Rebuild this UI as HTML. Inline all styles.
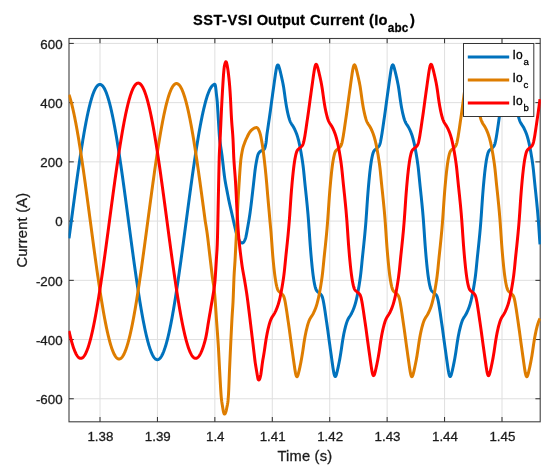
<!DOCTYPE html>
<html><head><meta charset="utf-8"><title>SST-VSI Output Current</title>
<style>html,body{margin:0;padding:0;background:#fff;width:550px;height:473px;overflow:hidden}svg text{font-family:"Liberation Sans",Arial,Helvetica,sans-serif}</style></head>
<body>
<svg width="550" height="473" viewBox="0 0 550 473" style="display:block;position:absolute;left:0;top:0">
<rect width="550" height="473" fill="#fff"/>
<g stroke="#dfdfdf" stroke-width="1">
<line x1="100.00" y1="38.5" x2="100.00" y2="421.8"/>
<line x1="157.43" y1="38.5" x2="157.43" y2="421.8"/>
<line x1="214.86" y1="38.5" x2="214.86" y2="421.8"/>
<line x1="272.29" y1="38.5" x2="272.29" y2="421.8"/>
<line x1="329.72" y1="38.5" x2="329.72" y2="421.8"/>
<line x1="387.14" y1="38.5" x2="387.14" y2="421.8"/>
<line x1="444.57" y1="38.5" x2="444.57" y2="421.8"/>
<line x1="502.00" y1="38.5" x2="502.00" y2="421.8"/>
<line x1="69.0" y1="43.42" x2="540.2" y2="43.42"/>
<line x1="69.0" y1="102.65" x2="540.2" y2="102.65"/>
<line x1="69.0" y1="161.87" x2="540.2" y2="161.87"/>
<line x1="69.0" y1="221.10" x2="540.2" y2="221.10"/>
<line x1="69.0" y1="280.33" x2="540.2" y2="280.33"/>
<line x1="69.0" y1="339.55" x2="540.2" y2="339.55"/>
<line x1="69.0" y1="398.78" x2="540.2" y2="398.78"/>
</g>
<g stroke="#404040" stroke-width="1.1" fill="none">
<rect x="69.0" y="38.5" width="471.20000000000005" height="383.3"/>
</g>
<g stroke="#2c2c2c" stroke-width="1" fill="none">
<line x1="100.00" y1="421.8" x2="100.00" y2="417.0"/>
<line x1="100.00" y1="38.5" x2="100.00" y2="43.3"/>
<line x1="157.43" y1="421.8" x2="157.43" y2="417.0"/>
<line x1="157.43" y1="38.5" x2="157.43" y2="43.3"/>
<line x1="214.86" y1="421.8" x2="214.86" y2="417.0"/>
<line x1="214.86" y1="38.5" x2="214.86" y2="43.3"/>
<line x1="272.29" y1="421.8" x2="272.29" y2="417.0"/>
<line x1="272.29" y1="38.5" x2="272.29" y2="43.3"/>
<line x1="329.72" y1="421.8" x2="329.72" y2="417.0"/>
<line x1="329.72" y1="38.5" x2="329.72" y2="43.3"/>
<line x1="387.14" y1="421.8" x2="387.14" y2="417.0"/>
<line x1="387.14" y1="38.5" x2="387.14" y2="43.3"/>
<line x1="444.57" y1="421.8" x2="444.57" y2="417.0"/>
<line x1="444.57" y1="38.5" x2="444.57" y2="43.3"/>
<line x1="502.00" y1="421.8" x2="502.00" y2="417.0"/>
<line x1="502.00" y1="38.5" x2="502.00" y2="43.3"/>
<line x1="69.0" y1="43.42" x2="73.8" y2="43.42"/>
<line x1="540.2" y1="43.42" x2="535.4000000000001" y2="43.42"/>
<line x1="69.0" y1="102.65" x2="73.8" y2="102.65"/>
<line x1="540.2" y1="102.65" x2="535.4000000000001" y2="102.65"/>
<line x1="69.0" y1="161.87" x2="73.8" y2="161.87"/>
<line x1="540.2" y1="161.87" x2="535.4000000000001" y2="161.87"/>
<line x1="69.0" y1="221.10" x2="73.8" y2="221.10"/>
<line x1="540.2" y1="221.10" x2="535.4000000000001" y2="221.10"/>
<line x1="69.0" y1="280.33" x2="73.8" y2="280.33"/>
<line x1="540.2" y1="280.33" x2="535.4000000000001" y2="280.33"/>
<line x1="69.0" y1="339.55" x2="73.8" y2="339.55"/>
<line x1="540.2" y1="339.55" x2="535.4000000000001" y2="339.55"/>
<line x1="69.0" y1="398.78" x2="73.8" y2="398.78"/>
<line x1="540.2" y1="398.78" x2="535.4000000000001" y2="398.78"/>
</g>
<defs><clipPath id="ax"><rect x="68.5" y="38.0" width="472.30000000000007" height="384.3"/></clipPath></defs>
<g clip-path="url(#ax)" fill="none" stroke-width="3.0" stroke-linejoin="round" stroke-linecap="butt">
<path d="M69.00 238.35L69.25 236.48L69.50 234.61L69.75 232.74L70.00 230.86L70.25 228.98L70.50 227.10L70.75 225.22L71.00 223.34L71.25 221.46L71.50 219.58L71.75 217.70L72.00 215.82L72.25 213.94L72.50 212.06L72.75 210.19L73.00 208.32L73.25 206.44L73.50 204.58L73.75 202.71L74.00 200.85L74.25 199.00L74.50 197.14L74.75 195.30L75.00 193.45L75.25 191.62L75.50 189.78L75.75 187.96L76.00 186.14L76.25 184.33L76.50 182.52L76.75 180.72L77.00 178.93L77.25 177.15L77.50 175.38L77.75 173.61L78.00 171.86L78.25 170.11L78.50 168.37L78.75 166.64L79.00 164.93L79.25 163.22L79.50 161.53L79.75 159.84L80.00 158.17L80.25 156.51L80.50 154.86L80.75 153.23L81.00 151.61L81.25 150.00L81.50 148.40L81.75 146.82L82.00 145.25L82.25 143.70L82.50 142.16L82.75 140.63L83.00 139.12L83.25 137.63L83.50 136.15L83.75 134.69L84.00 133.25L84.25 131.82L84.50 130.41L84.75 129.01L85.00 127.63L85.25 126.27L85.50 124.93L85.75 123.61L86.00 122.30L86.25 121.02L86.50 119.75L86.75 118.50L87.00 117.27L87.25 116.06L87.50 114.87L87.75 113.70L88.00 112.55L88.25 111.42L88.50 110.31L88.75 109.23L89.00 108.16L89.25 107.12L89.50 106.09L89.75 105.09L90.00 104.11L90.25 103.15L90.50 102.22L90.75 101.30L91.00 100.41L91.25 99.54L91.50 98.70L91.75 97.87L92.00 97.08L92.25 96.30L92.50 95.55L92.75 94.82L93.00 94.11L93.25 93.43L93.50 92.78L93.75 92.14L94.00 91.53L94.25 90.95L94.50 90.39L94.75 89.86L95.00 89.35L95.25 88.86L95.50 88.40L95.75 87.96L96.00 87.55L96.25 87.17L96.50 86.81L96.75 86.47L97.00 86.16L97.25 85.88L97.50 85.62L97.75 85.39L98.00 85.18L98.25 85.00L98.50 84.84L98.75 84.71L99.00 84.60L99.25 84.52L99.50 84.47L99.75 84.44L100.00 84.44L100.25 84.46L100.50 84.51L100.75 84.58L101.00 84.68L101.25 84.81L101.50 84.96L101.75 85.14L102.00 85.34L102.25 85.57L102.50 85.82L102.75 86.10L103.00 86.41L103.25 86.74L103.50 87.09L103.75 87.47L104.00 87.88L104.25 88.31L104.50 88.77L104.75 89.25L105.00 89.75L105.25 90.28L105.50 90.84L105.75 91.42L106.00 92.02L106.25 92.65L106.50 93.30L106.75 93.98L107.00 94.68L107.25 95.40L107.50 96.15L107.75 96.92L108.00 97.71L108.25 98.53L108.50 99.37L108.75 100.24L109.00 101.12L109.25 102.03L109.50 102.96L109.75 103.92L110.00 104.89L110.25 105.89L110.50 106.91L110.75 107.95L111.00 109.01L111.25 110.10L111.50 111.20L111.75 112.32L112.00 113.47L112.25 114.64L112.50 115.82L112.75 117.03L113.00 118.25L113.25 119.50L113.50 120.76L113.75 122.04L114.00 123.35L114.25 124.67L114.50 126.00L114.75 127.36L115.00 128.73L115.25 130.13L115.50 131.53L115.75 132.96L116.00 134.40L116.25 135.86L116.50 137.33L116.75 138.82L117.00 140.33L117.25 141.85L117.50 143.39L117.75 144.94L118.00 146.50L118.25 148.08L118.50 149.68L118.75 151.28L119.00 152.90L119.25 154.53L119.50 156.18L119.75 157.84L120.00 159.51L120.25 161.19L120.50 162.88L120.75 164.59L121.00 166.30L121.25 168.03L121.50 169.76L121.75 171.51L122.00 173.26L122.25 175.02L122.50 176.80L122.75 178.58L123.00 180.36L123.25 182.16L123.50 183.97L123.75 185.78L124.00 187.59L124.25 189.42L124.50 191.25L124.75 193.09L125.00 194.93L125.25 196.77L125.50 198.63L125.75 200.48L126.00 202.34L126.25 204.20L126.50 206.07L126.75 207.94L127.00 209.81L127.25 211.69L127.50 213.56L127.75 215.44L128.00 217.32L128.25 219.20L128.50 221.08L128.75 222.97L129.00 224.85L129.25 226.73L129.50 228.61L129.75 230.48L130.00 232.36L130.25 234.24L130.50 236.11L130.75 237.98L131.00 239.85L131.25 241.71L131.50 243.57L131.75 245.43L132.00 247.28L132.25 249.12L132.50 250.97L132.75 252.80L133.00 254.63L133.25 256.46L133.50 258.28L133.75 260.09L134.00 261.89L134.25 263.69L134.50 265.48L134.75 267.26L135.00 269.03L135.25 270.80L135.50 272.55L135.75 274.29L136.00 276.03L136.25 277.76L136.50 279.47L136.75 281.18L137.00 282.87L137.25 284.55L137.50 286.22L137.75 287.88L138.00 289.52L138.25 291.16L138.50 292.78L138.75 294.39L139.00 295.98L139.25 297.56L139.50 299.12L139.75 300.68L140.00 302.21L140.25 303.73L140.50 305.24L140.75 306.73L141.00 308.21L141.25 309.67L141.50 311.11L141.75 312.53L142.00 313.94L142.25 315.34L142.50 316.71L142.75 318.07L143.00 319.41L143.25 320.73L143.50 322.03L143.75 323.31L144.00 324.58L144.25 325.82L144.50 327.05L144.75 328.25L145.00 329.44L145.25 330.61L145.50 331.75L145.75 332.88L146.00 333.99L146.25 335.07L146.50 336.13L146.75 337.17L147.00 338.19L147.25 339.19L147.50 340.17L147.75 341.12L148.00 342.06L148.25 342.97L148.50 343.85L148.75 344.72L149.00 345.56L149.25 346.38L149.50 347.17L149.75 347.95L150.00 348.70L150.25 349.42L150.50 350.12L150.75 350.80L151.00 351.45L151.25 352.08L151.50 352.69L151.75 353.27L152.00 353.82L152.25 354.35L152.50 354.86L152.75 355.34L153.00 355.80L153.25 356.23L153.50 356.64L153.75 357.02L154.00 357.37L154.25 357.70L154.50 358.01L154.75 358.29L155.00 358.54L155.25 358.77L155.50 358.98L155.75 359.16L156.00 359.31L156.25 359.44L156.50 359.54L156.75 359.61L157.00 359.66L157.25 359.69L157.50 359.68L157.75 359.66L158.00 359.60L158.25 359.53L158.50 359.42L158.75 359.29L159.00 359.14L159.25 358.95L159.50 358.75L159.75 358.52L160.00 358.26L160.25 357.97L160.50 357.67L160.75 357.33L161.00 356.97L161.25 356.59L161.50 356.18L161.75 355.74L162.00 355.28L162.25 354.80L162.50 354.29L162.75 353.76L163.00 353.20L163.25 352.61L163.50 352.01L163.75 351.37L164.00 350.72L164.25 350.04L164.50 349.33L164.75 348.61L165.00 347.86L165.25 347.08L165.50 346.28L165.75 345.46L166.00 344.62L166.25 343.75L166.50 342.86L166.75 341.95L167.00 341.01L167.25 340.05L167.50 339.07L167.75 338.07L168.00 337.05L168.25 336.01L168.50 334.94L168.75 333.85L169.00 332.75L169.25 331.62L169.50 330.47L169.75 329.30L170.00 328.11L170.25 326.90L170.50 325.67L170.75 324.43L171.00 323.16L171.25 321.87L171.50 320.57L171.75 319.25L172.00 317.90L172.25 316.55L172.50 315.17L172.75 313.78L173.00 312.36L173.25 310.94L173.50 309.49L173.75 308.03L174.00 306.55L174.25 305.06L174.50 303.55L174.75 302.03L175.00 300.49L175.25 298.94L175.50 297.37L175.75 295.79L176.00 294.19L176.25 292.58L176.50 290.96L176.75 289.33L177.00 287.68L177.25 286.02L177.50 284.35L177.75 282.67L178.00 280.97L178.25 279.27L178.50 277.55L178.75 275.82L179.00 274.09L179.25 272.34L179.50 270.58L179.75 268.82L180.00 267.05L180.25 265.26L180.50 263.47L180.75 261.68L181.00 259.87L181.25 258.06L181.50 256.24L181.75 254.41L182.00 252.58L182.25 250.75L182.50 248.90L182.75 247.06L183.00 245.20L183.25 243.35L183.50 241.49L183.75 239.62L184.00 237.75L184.25 235.88L184.50 234.01L184.75 232.14L185.00 230.26L185.25 228.38L185.50 226.50L185.75 224.62L186.00 222.74L186.25 220.86L186.50 218.98L186.75 217.10L187.00 215.22L187.25 213.34L187.50 211.46L187.75 209.59L188.00 207.72L188.25 205.85L188.50 203.98L188.75 202.12L189.00 200.26L189.25 198.40L189.50 196.55L189.75 194.71L190.00 192.86L190.25 191.03L190.50 189.20L190.75 187.38L191.00 185.56L191.25 183.75L191.50 181.95L191.75 180.15L192.00 178.36L192.25 176.58L192.50 174.81L192.75 173.05L193.00 171.30L193.25 169.55L193.50 167.82L193.75 166.09L194.00 164.38L194.25 162.68L194.50 160.99L194.75 159.31L195.00 157.64L195.25 155.98L195.50 154.34L195.75 152.71L196.00 151.09L196.25 149.48L196.50 147.89L196.75 146.31L197.00 144.75L197.25 143.20L197.50 141.67L197.75 140.15L198.00 138.64L198.25 137.16L198.50 135.68L198.75 134.23L199.00 132.79L199.25 131.36L199.50 129.96L199.75 128.57L200.00 127.20L200.25 125.84L200.50 124.51L200.75 123.19L201.00 121.89L201.25 120.61L201.50 119.35L201.75 118.11L202.00 116.88L202.25 115.68L202.50 114.50L202.75 113.33L203.00 112.19L203.25 111.07L203.50 109.96L203.75 108.88L204.00 107.82L204.25 106.79L204.50 105.77L204.75 104.77L205.00 103.80L205.25 102.85L205.50 101.92L205.75 101.01L206.00 100.13L206.25 99.27L206.50 98.43L206.75 97.62L207.00 96.82L207.25 96.06L207.50 95.31L207.75 94.59L208.00 93.89L208.25 93.22L208.50 92.57L208.75 91.95L209.00 91.35L209.25 90.77L209.50 90.22L209.75 89.69L210.00 89.19L210.25 88.71L210.50 88.26L210.75 87.83L211.00 87.43L211.25 87.05L211.50 86.70L211.75 86.37L212.00 86.07L212.25 85.79L212.50 85.54L212.75 85.32L213.00 85.12L213.25 84.94L213.50 84.79L213.75 84.65L214.00 84.48L214.25 84.35L214.50 84.32L214.75 84.34L215.00 84.49L215.25 85.03L215.50 86.20L215.75 88.02L216.00 90.21L216.25 92.59L216.50 95.00L216.75 97.14L217.00 99.24L217.25 101.89L217.50 105.58L217.75 109.62L218.00 113.72L218.25 117.82L218.50 121.92L218.75 126.03L219.00 130.14L219.25 134.20L219.50 137.72L219.75 140.06L220.00 141.82L220.25 143.54L220.50 145.27L220.75 146.98L221.00 148.67L221.25 150.29L221.50 151.93L221.75 153.64L222.00 155.51L222.25 157.54L222.50 159.67L222.75 161.85L223.00 164.00L223.25 166.16L223.50 168.37L223.75 170.56L224.00 172.70L224.25 174.73L224.50 176.63L224.75 178.41L225.00 180.07L225.25 181.60L225.50 183.00L225.75 184.34L226.00 185.66L226.25 186.97L226.50 188.28L226.75 189.58L227.00 190.86L227.25 192.14L227.50 193.43L227.75 194.72L228.00 196.01L228.25 197.31L228.50 198.59L228.75 199.85L229.00 201.07L229.25 202.27L229.50 203.42L229.75 204.54L230.00 205.63L230.25 206.70L230.50 207.77L230.75 208.83L231.00 209.89L231.25 210.96L231.50 212.06L231.75 213.17L232.00 214.29L232.25 215.40L232.50 216.52L232.75 217.64L233.00 218.76L233.25 219.88L233.50 221.00L233.75 222.11L234.00 223.22L234.25 224.32L234.50 225.41L234.75 226.50L235.00 227.58L235.25 228.65L235.50 229.72L235.75 230.79L236.00 231.82L236.25 232.78L236.50 233.66L236.75 234.47L237.00 235.22L237.25 235.92L237.50 236.57L237.75 237.17L238.00 237.74L238.25 238.28L238.50 238.80L238.75 239.31L239.00 239.80L239.25 240.27L239.50 240.70L239.75 241.10L240.00 241.46L240.25 241.78L240.50 242.06L240.75 242.30L241.00 242.51L241.25 242.68L241.50 242.81L241.75 242.91L242.00 242.97L242.25 243.00L242.50 242.99L242.75 242.92L243.00 242.78L243.25 242.57L243.50 242.31L243.75 241.99L244.00 241.61L244.25 241.18L244.50 240.70L244.75 240.18L245.00 239.62L245.25 238.99L245.50 238.26L245.75 237.42L246.00 236.42L246.25 235.25L246.50 233.97L246.75 232.62L247.00 231.22L247.25 229.79L247.50 228.35L247.75 226.93L248.00 225.52L248.25 224.10L248.50 222.67L248.75 221.21L249.00 219.72L249.25 218.19L249.50 216.60L249.75 214.94L250.00 213.21L250.25 211.40L250.50 209.52L250.75 207.58L251.00 205.58L251.25 203.54L251.50 201.45L251.75 199.33L252.00 197.18L252.25 195.01L252.50 192.83L252.75 190.65L253.00 188.47L253.25 186.30L253.50 184.13L253.75 181.91L254.00 179.63L254.25 177.35L254.50 175.09L254.75 172.88L255.00 170.78L255.25 168.85L255.50 167.10L255.75 165.50L256.00 164.00L256.25 162.59L256.50 161.24L256.75 159.90L257.00 158.62L257.25 157.41L257.50 156.31L257.75 155.36L258.00 154.58L258.25 154.00L258.50 153.53L258.75 153.11L259.00 152.74L259.25 152.41L259.50 152.11L259.75 151.85L260.00 151.62L260.25 151.41L260.50 151.23L260.75 151.08L261.00 150.95L261.25 150.84L261.50 150.75L261.75 150.66L262.00 150.58L262.25 150.49L262.50 150.39L262.75 150.27L263.00 150.13L263.25 149.97L263.50 149.81L263.75 149.66L264.00 149.47L264.25 149.21L264.50 148.85L264.75 148.33L265.00 147.62L265.25 146.69L265.50 145.51L265.75 144.25L266.00 142.90L266.25 140.98L266.50 138.64L266.75 136.18L267.00 133.98L267.25 132.30L267.50 130.64L267.75 128.96L268.00 127.25L268.25 125.52L268.50 123.80L268.75 122.08L269.00 120.37L269.25 118.66L269.50 116.95L269.75 115.22L270.00 113.47L270.25 111.69L270.50 109.87L270.75 108.02L271.00 106.15L271.25 104.28L271.50 102.41L271.75 100.56L272.00 98.73L272.25 96.92L272.50 95.12L272.75 93.33L273.00 91.54L273.25 89.75L273.50 87.96L273.75 86.17L274.00 84.38L274.25 82.59L274.50 80.80L274.75 79.03L275.00 77.26L275.25 75.52L275.50 73.82L275.75 72.18L276.00 70.65L276.25 69.25L276.50 68.01L276.75 66.97L277.00 66.13L277.25 65.50L277.50 65.09L277.75 64.90L278.00 64.93L278.25 65.16L278.50 65.59L278.75 66.17L279.00 66.89L279.25 67.70L279.50 68.57L279.75 69.49L280.00 70.45L280.25 71.44L280.50 72.45L280.75 73.48L281.00 74.54L281.25 75.62L281.50 76.72L281.75 77.83L282.00 78.96L282.25 80.12L282.50 81.30L282.75 82.53L283.00 83.80L283.25 85.14L283.50 86.57L283.75 88.09L284.00 89.72L284.25 91.45L284.50 93.26L284.75 95.10L285.00 96.94L285.25 98.73L285.50 100.46L285.75 102.12L286.00 103.71L286.25 105.23L286.50 106.69L286.75 108.08L287.00 109.40L287.25 110.65L287.50 111.84L287.75 112.98L288.00 114.06L288.25 115.10L288.50 116.09L288.75 117.04L289.00 117.94L289.25 118.78L289.50 119.57L289.75 120.29L290.00 120.95L290.25 121.56L290.50 122.11L290.75 122.62L291.00 123.09L291.25 123.53L291.50 123.94L291.75 124.33L292.00 124.71L292.25 125.08L292.50 125.45L292.75 125.83L293.00 126.22L293.25 126.62L293.50 127.04L293.75 127.49L294.00 127.96L294.25 128.45L294.50 128.95L294.75 129.48L295.00 130.02L295.25 130.57L295.50 131.15L295.75 131.74L296.00 132.35L296.25 132.99L296.50 133.65L296.75 134.34L297.00 135.06L297.25 135.81L297.50 136.61L297.75 137.44L298.00 138.32L298.25 139.25L298.50 140.21L298.75 141.22L299.00 142.26L299.25 143.35L299.50 144.49L299.75 145.67L300.00 146.91L300.25 148.20L300.50 149.55L300.75 150.93L301.00 152.36L301.25 153.82L301.50 155.30L301.75 156.80L302.00 158.35L302.25 159.94L302.50 161.61L302.75 163.36L303.00 165.24L303.25 167.26L303.50 169.44L303.75 171.78L304.00 174.23L304.25 176.77L304.50 179.33L304.75 181.86L305.00 184.34L305.25 186.75L305.50 189.11L305.75 191.45L306.00 193.81L306.25 196.19L306.50 198.61L306.75 201.08L307.00 203.60L307.25 206.18L307.50 208.83L307.75 211.57L308.00 214.43L308.25 217.43L308.50 220.62L308.75 223.99L309.00 227.54L309.25 231.21L309.50 234.94L309.75 238.63L310.00 242.21L310.25 245.63L310.50 248.87L310.75 251.94L311.00 254.86L311.25 257.67L311.50 260.37L311.75 262.97L312.00 265.49L312.25 267.89L312.50 270.17L312.75 272.32L313.00 274.34L313.25 276.22L313.50 277.98L313.75 279.62L314.00 281.15L314.25 282.55L314.50 283.86L314.75 285.06L315.00 286.16L315.25 287.16L315.50 288.05L315.75 288.83L316.00 289.48L316.25 290.01L316.50 290.45L316.75 290.81L317.00 291.11L317.25 291.37L317.50 291.60L317.75 291.82L318.00 292.04L318.25 292.25L318.50 292.46L318.75 292.66L319.00 292.87L319.25 293.08L319.50 293.29L319.75 293.50L320.00 293.71L320.25 293.93L320.50 294.16L320.75 294.41L321.00 294.67L321.25 294.96L321.50 295.30L321.75 295.71L322.00 296.21L322.25 296.83L322.50 297.59L322.75 298.48L323.00 299.51L323.25 300.66L323.50 301.92L323.75 303.28L324.00 304.72L324.25 306.24L324.50 307.81L324.75 309.42L325.00 311.08L325.25 312.77L325.50 314.49L325.75 316.21L326.00 317.94L326.25 319.66L326.50 321.37L326.75 323.07L327.00 324.79L327.25 326.52L327.50 328.27L327.75 330.06L328.00 331.89L328.25 333.74L328.50 335.61L328.75 337.48L329.00 339.35L329.25 341.19L329.50 343.02L329.75 344.83L330.00 346.63L330.25 348.42L330.50 350.21L330.75 351.99L331.00 353.78L331.25 355.58L331.50 357.37L331.75 359.16L332.00 360.94L332.25 362.72L332.50 364.48L332.75 366.21L333.00 367.91L333.25 369.53L333.50 371.05L333.75 372.42L334.00 373.63L334.25 374.64L334.50 375.44L334.75 376.03L335.00 376.40L335.25 376.54L335.50 376.44L335.75 376.13L336.00 375.62L336.25 374.94L336.50 374.13L336.75 373.22L337.00 372.24L337.25 371.21L337.50 370.14L337.75 369.04L338.00 367.90L338.25 366.73L338.50 365.54L338.75 364.32L339.00 363.07L339.25 361.79L339.50 360.48L339.75 359.13L340.00 357.74L340.25 356.30L340.50 354.80L340.75 353.24L341.00 351.60L341.25 349.91L341.50 348.17L341.75 346.42L342.00 344.70L342.25 343.02L342.50 341.42L342.75 339.88L343.00 338.40L343.25 336.99L343.50 335.63L343.75 334.33L344.00 333.08L344.25 331.89L344.50 330.76L344.75 329.67L345.00 328.63L345.25 327.62L345.50 326.66L345.75 325.72L346.00 324.83L346.25 323.97L346.50 323.16L346.75 322.39L347.00 321.67L347.25 321.00L347.50 320.38L347.75 319.80L348.00 319.28L348.25 318.79L348.50 318.33L348.75 317.90L349.00 317.49L349.25 317.10L349.50 316.72L349.75 316.34L350.00 315.97L350.25 315.58L350.50 315.19L350.75 314.78L351.00 314.35L351.25 313.90L351.50 313.43L351.75 312.94L352.00 312.43L352.25 311.90L352.50 311.36L352.75 310.80L353.00 310.22L353.25 309.62L353.50 309.01L353.75 308.37L354.00 307.70L354.25 307.01L354.50 306.28L354.75 305.52L355.00 304.72L355.25 303.88L355.50 302.99L355.75 302.06L356.00 301.09L356.25 300.08L356.50 299.03L356.75 297.93L357.00 296.79L357.25 295.60L357.50 294.35L357.75 293.05L358.00 291.69L358.25 290.30L358.50 288.87L358.75 287.41L359.00 285.92L359.25 284.41L359.50 282.86L359.75 281.26L360.00 279.58L360.25 277.80L360.50 275.91L360.75 273.86L361.00 271.65L361.25 269.30L361.50 266.82L361.75 264.28L362.00 261.72L362.25 259.20L362.50 256.73L362.75 254.33L363.00 251.97L363.25 249.63L363.50 247.28L363.75 244.89L364.00 242.46L364.25 239.98L364.50 237.45L364.75 234.87L365.00 232.20L365.25 229.44L365.50 226.56L365.75 223.53L366.00 220.32L366.25 216.92L366.50 213.34L366.75 209.65L367.00 205.93L367.25 202.25L367.50 198.69L367.75 195.30L368.00 192.09L368.25 189.05L368.50 186.14L368.75 183.36L369.00 180.67L369.25 178.08L369.50 175.58L369.75 173.20L370.00 170.94L370.25 168.81L370.50 166.81L370.75 164.95L371.00 163.21L371.25 161.59L371.50 160.08L371.75 158.69L372.00 157.41L372.25 156.22L372.50 155.13L372.75 154.15L373.00 153.28L373.25 152.52L373.50 151.89L373.75 151.37L374.00 150.95L374.25 150.60L374.50 150.31L374.75 150.05L375.00 149.82L375.25 149.60L375.50 149.39L375.75 149.18L376.00 148.97L376.25 148.76L376.50 148.55L376.75 148.35L377.00 148.14L377.25 147.93L377.50 147.71L377.75 147.49L378.00 147.26L378.25 147.01L378.50 146.75L378.75 146.45L379.00 146.10L379.25 145.68L379.50 145.16L379.75 144.52L380.00 143.74L380.25 142.82L380.50 141.78L380.75 140.61L381.00 139.33L381.25 137.95L381.50 136.50L381.75 134.97L382.00 133.40L382.25 131.77L382.50 130.11L382.75 128.41L383.00 126.70L383.25 124.97L383.50 123.25L383.75 121.53L384.00 119.82L384.25 118.11L384.50 116.40L384.75 114.66L385.00 112.90L385.25 111.11L385.50 109.28L385.75 107.42L386.00 105.55L386.25 103.68L386.50 101.82L386.75 99.97L387.00 98.15L387.25 96.34L387.50 94.54L387.75 92.75L388.00 90.97L388.25 89.18L388.50 87.39L388.75 85.60L389.00 83.80L389.25 82.01L389.50 80.23L389.75 78.46L390.00 76.70L390.25 74.97L390.50 73.29L390.75 71.68L391.00 70.18L391.25 68.83L391.50 67.66L391.75 66.68L392.00 65.91L392.25 65.34L392.50 65.00L392.75 64.88L393.00 64.98L393.25 65.28L393.50 65.76L393.75 66.39L394.00 67.14L394.25 67.97L394.50 68.86L394.75 69.80L395.00 70.76L395.25 71.76L395.50 72.78L395.75 73.82L396.00 74.88L396.25 75.97L396.50 77.07L396.75 78.19L397.00 79.33L397.25 80.49L397.50 81.69L397.75 82.93L398.00 84.22L398.25 85.59L398.50 87.04L398.75 88.60L399.00 90.26L399.25 92.02L399.50 93.84L399.75 95.69L400.00 97.52L400.25 99.29L400.50 101.00L400.75 102.64L401.00 104.20L401.25 105.70L401.50 107.14L401.75 108.51L402.00 109.81L402.25 111.04L402.50 112.21L402.75 113.33L403.00 114.40L403.25 115.42L403.50 116.40L403.75 117.34L404.00 118.22L404.25 119.04L404.50 119.81L404.75 120.51L405.00 121.15L405.25 121.74L405.50 122.28L405.75 122.77L406.00 123.23L406.25 123.66L406.50 124.07L406.75 124.45L407.00 124.83L407.25 125.20L407.50 125.57L407.75 125.95L408.00 126.35L408.25 126.76L408.50 127.18L408.75 127.64L409.00 128.11L409.25 128.61L409.50 129.12L409.75 129.65L410.00 130.19L410.25 130.75L410.50 131.33L410.75 131.93L411.00 132.55L411.25 133.20L411.50 133.87L411.75 134.57L412.00 135.30L412.25 136.06L412.50 136.87L412.75 137.72L413.00 138.61L413.25 139.55L413.50 140.53L413.75 141.55L414.00 142.61L414.25 143.71L414.50 144.86L414.75 146.06L415.00 147.32L415.25 148.63L415.50 149.99L415.75 151.39L416.00 152.82L416.25 154.29L416.50 155.78L416.75 157.29L417.00 158.85L417.25 160.47L417.50 162.16L417.75 163.95L418.00 165.87L418.25 167.94L418.50 170.17L418.75 172.55L419.00 175.04L419.25 177.59L419.50 180.15L419.75 182.66L420.00 185.11L420.25 187.51L420.50 189.86L420.75 192.20L421.00 194.56L421.25 196.96L421.50 199.39L421.75 201.88L422.00 204.42L422.25 207.01L422.50 209.69L422.75 212.47L423.00 215.37L423.25 218.43L423.50 221.67L423.75 225.11L424.00 228.70L424.25 232.40L424.50 236.13L424.75 239.79L425.00 243.32L425.25 246.68L425.50 249.87L425.75 252.89L426.00 255.77L426.25 258.54L426.50 261.21L426.75 263.79L427.00 266.27L427.25 268.63L427.50 270.87L427.75 272.98L428.00 274.96L428.25 276.80L428.50 278.52L428.75 280.12L429.00 281.61L429.25 282.98L429.50 284.25L429.75 285.42L430.00 286.49L430.25 287.46L430.50 288.31L430.75 289.05L431.00 289.66L431.25 290.16L431.50 290.57L431.75 290.91L432.00 291.20L432.25 291.45L432.50 291.68L432.75 291.89L433.00 292.10L433.25 292.31L433.50 292.52L433.75 292.73L434.00 292.94L434.25 293.15L434.50 293.35L434.75 293.56L435.00 293.78L435.25 294.00L435.50 294.24L435.75 294.49L436.00 294.76L436.25 295.06L436.50 295.42L436.75 295.86L437.00 296.39L437.25 297.06L437.50 297.86L437.75 298.79L438.00 299.86L438.25 301.05L438.50 302.34L438.75 303.73L439.00 305.20L439.25 306.73L439.50 308.32L439.75 309.95L440.00 311.62L440.25 313.32L440.50 315.04L440.75 316.76L441.00 318.49L441.25 320.20L441.50 321.91L441.75 323.62L442.00 325.34L442.25 327.08L442.50 328.84L442.75 330.64L443.00 332.48L443.25 334.33L443.50 336.21L443.75 338.08L444.00 339.94L444.25 341.78L444.50 343.60L444.75 345.41L445.00 347.20L445.25 348.99L445.50 350.78L445.75 352.57L446.00 354.36L446.25 356.15L446.50 357.94L446.75 359.73L447.00 361.51L447.25 363.28L447.50 365.04L447.75 366.76L448.00 368.44L448.25 370.03L448.50 371.51L448.75 372.83L449.00 373.97L449.25 374.92L449.50 375.66L449.75 376.18L450.00 376.47L450.25 376.53L450.50 376.36L450.75 375.98L451.00 375.42L451.25 374.69L451.50 373.85L451.75 372.91L452.00 371.92L452.25 370.87L452.50 369.79L452.75 368.68L453.00 367.53L453.25 366.35L453.50 365.15L453.75 363.92L454.00 362.66L454.25 361.37L454.50 360.05L454.75 358.69L455.00 357.29L455.25 355.83L455.50 354.31L455.75 352.72L456.00 351.07L456.25 349.35L456.50 347.61L456.75 345.87L457.00 344.16L457.25 342.50L457.50 340.92L457.75 339.40L458.00 337.94L458.25 336.55L458.50 335.21L458.75 333.92L459.00 332.70L459.25 331.52L459.50 330.40L459.75 329.33L460.00 328.30L460.25 327.31L460.50 326.35L460.75 325.43L461.00 324.55L461.25 323.71L461.50 322.91L461.75 322.15L462.00 321.45L462.25 320.79L462.50 320.19L462.75 319.63L463.00 319.11L463.25 318.64L463.50 318.19L463.75 317.77L464.00 317.37L464.25 316.98L464.50 316.60L464.75 316.22L465.00 315.85L465.25 315.46L465.50 315.06L465.75 314.65L466.00 314.21L466.25 313.75L466.50 313.27L466.75 312.77L467.00 312.26L467.25 311.73L467.50 311.18L467.75 310.61L468.00 310.03L468.25 309.43L468.50 308.80L468.75 308.16L469.00 307.48L469.25 306.78L469.50 306.04L469.75 305.27L470.00 304.46L470.25 303.60L470.50 302.70L470.75 301.76L471.00 300.77L471.25 299.75L471.50 298.68L471.75 297.57L472.00 296.41L472.25 295.20L472.50 293.94L472.75 292.62L473.00 291.25L473.25 289.84L473.50 288.40L473.75 286.94L474.00 285.44L474.25 283.92L474.50 282.35L474.75 280.73L475.00 279.02L475.25 277.21L475.50 275.27L475.75 273.17L476.00 270.92L476.25 268.52L476.50 266.01L476.75 263.46L477.00 260.91L477.25 258.40L477.50 255.96L477.75 253.57L478.00 251.22L478.25 248.88L478.50 246.52L478.75 244.12L479.00 241.67L479.25 239.18L479.50 236.63L479.75 234.02L480.00 231.33L480.25 228.54L480.50 225.61L480.75 222.52L481.00 219.25L481.25 215.79L481.50 212.17L481.75 208.46L482.00 204.74L482.25 201.09L482.50 197.59L482.75 194.26L483.00 191.10L483.25 188.10L483.50 185.24L483.75 182.49L484.00 179.83L484.25 177.27L484.50 174.81L484.75 172.46L485.00 170.24L485.25 168.15L485.50 166.20L485.75 164.38L486.00 162.67L486.25 161.09L486.50 159.62L486.75 158.27L487.00 157.02L487.25 155.86L487.50 154.81L487.75 153.86L488.00 153.02L488.25 152.31L488.50 151.71L488.75 151.23L489.00 150.83L489.25 150.50L489.50 150.22L489.75 149.98L490.00 149.75L490.25 149.53L490.50 149.32L490.75 149.11L491.00 148.90L491.25 148.70L491.50 148.49L491.75 148.28L492.00 148.07L492.25 147.86L492.50 147.64L492.75 147.42L493.00 147.18L493.25 146.93L493.50 146.66L493.75 146.34L494.00 145.98L494.25 145.53L494.50 144.97L494.75 144.28L495.00 143.46L495.25 142.50L495.50 141.42L495.75 140.21L496.00 138.90L496.25 137.50L496.50 136.02L496.75 134.47L497.00 132.88L497.25 131.24L497.50 129.57L497.75 127.87L498.00 126.14L498.25 124.42L498.50 122.70L498.75 120.98L499.00 119.27L499.25 117.57L499.50 115.85L499.75 114.10L500.00 112.33L500.25 110.53L500.50 108.69L500.75 106.83L501.00 104.95L501.25 103.08L501.50 101.22L501.75 99.39L502.00 97.57L502.25 95.76L502.50 93.97L502.75 92.18L503.00 90.40L503.25 88.61L503.50 86.82L503.75 85.02L504.00 83.23L504.25 81.44L504.50 79.66L504.75 77.90L505.00 76.15L505.25 74.43L505.50 72.76L505.75 71.18L506.00 69.73L506.25 68.44L506.50 67.32L506.75 66.41L507.00 65.70L507.25 65.21L507.50 64.94L507.75 64.89L508.00 65.06L508.25 65.42L508.50 65.95L508.75 66.62L509.00 67.39L509.25 68.25L509.50 69.16L509.75 70.10L510.00 71.08L510.25 72.08L510.50 73.11L510.75 74.16L511.00 75.23L511.25 76.32L511.50 77.43L511.75 78.55L512.00 79.70L512.25 80.87L512.50 82.08L512.75 83.34L513.00 84.65L513.25 86.04L513.50 87.53L513.75 89.12L514.00 90.81L514.25 92.60L514.50 94.44L514.75 96.28L515.00 98.09L515.25 99.85L515.50 101.53L515.75 103.14L516.00 104.69L516.25 106.17L516.50 107.58L516.75 108.93L517.00 110.21L517.25 111.42L517.50 112.57L517.75 113.68L518.00 114.73L518.25 115.74L518.50 116.71L518.75 117.62L519.00 118.49L519.25 119.29L519.50 120.04L519.75 120.72L520.00 121.35L520.25 121.92L520.50 122.44L520.75 122.92L521.00 123.37L521.25 123.79L521.50 124.19L521.75 124.57L522.00 124.95L522.25 125.32L522.50 125.69L522.75 126.08L523.00 126.47L523.25 126.89L523.50 127.33L523.75 127.79L524.00 128.27L524.25 128.77L524.50 129.29L524.75 129.82L525.00 130.37L525.25 130.94L525.50 131.52L525.75 132.13L526.00 132.76L526.25 133.41L526.50 134.09L526.75 134.80L527.00 135.54L527.25 136.32L527.50 137.14L527.75 138.00L528.00 138.91L528.25 139.86L528.50 140.85L528.75 141.88L529.00 142.95L529.25 144.07L529.50 145.24L529.75 146.46L530.00 147.73L530.25 149.06L530.50 150.43L530.75 151.84L531.00 153.29L531.25 154.76L531.50 156.26L531.75 157.79L532.00 159.36L532.25 161.00L532.50 162.72L532.75 164.55L533.00 166.52L533.25 168.64L533.50 170.92L533.75 173.34L534.00 175.85L534.25 178.41L534.50 180.96L534.75 183.45L535.00 185.89L535.25 188.26L535.50 190.61L535.75 192.96L536.00 195.33L536.25 197.73L536.50 200.18L536.75 202.68L537.00 205.24L537.25 207.86L537.50 210.57L537.75 213.38L538.00 216.33L538.25 219.45L538.50 222.75L538.75 226.24L539.00 229.88L539.25 233.60L539.50 237.31L539.75 240.94L540.00 244.42" stroke="#0072BD"/>
<path d="M69.00 94.69L69.25 95.44L69.50 96.22L69.75 97.02L70.00 97.84L70.25 98.69L70.50 99.56L70.75 100.45L71.00 101.37L71.25 102.30L71.50 103.26L71.75 104.24L72.00 105.25L72.25 106.27L72.50 107.32L72.75 108.39L73.00 109.48L73.25 110.59L73.50 111.72L73.75 112.87L74.00 114.04L74.25 115.23L74.50 116.44L74.75 117.67L75.00 118.92L75.25 120.19L75.50 121.48L75.75 122.78L76.00 124.11L76.25 125.45L76.50 126.81L76.75 128.19L77.00 129.59L77.25 131.00L77.50 132.43L77.75 133.88L78.00 135.34L78.25 136.82L78.50 138.32L78.75 139.83L79.00 141.35L79.25 142.89L79.50 144.45L79.75 146.02L80.00 147.60L80.25 149.20L80.50 150.81L80.75 152.43L81.00 154.07L81.25 155.72L81.50 157.38L81.75 159.06L82.00 160.74L82.25 162.44L82.50 164.15L82.75 165.86L83.00 167.59L83.25 169.33L83.50 171.08L83.75 172.84L84.00 174.60L84.25 176.38L84.50 178.16L84.75 179.96L85.00 181.75L85.25 183.56L85.50 185.38L85.75 187.20L86.00 189.02L86.25 190.86L86.50 192.70L86.75 194.54L87.00 196.39L87.25 198.24L87.50 200.10L87.75 201.96L88.00 203.83L88.25 205.70L88.50 207.57L88.75 209.44L89.00 211.32L89.25 213.20L89.50 215.08L89.75 216.96L90.00 218.84L90.25 220.73L90.50 222.61L90.75 224.49L91.00 226.37L91.25 228.25L91.50 230.13L91.75 232.01L92.00 233.89L92.25 235.76L92.50 237.63L92.75 239.50L93.00 241.36L93.25 243.22L93.50 245.08L93.75 246.93L94.00 248.78L94.25 250.62L94.50 252.46L94.75 254.29L95.00 256.11L95.25 257.93L95.50 259.74L95.75 261.55L96.00 263.34L96.25 265.13L96.50 266.91L96.75 268.68L97.00 270.45L97.25 272.20L97.50 273.94L97.75 275.68L98.00 277.40L98.25 279.12L98.50 280.82L98.75 282.51L99.00 284.19L99.25 285.86L99.50 287.52L99.75 289.16L100.00 290.79L100.25 292.41L100.50 294.02L100.75 295.61L101.00 297.19L101.25 298.75L101.50 300.30L101.75 301.83L102.00 303.35L102.25 304.86L102.50 306.35L102.75 307.82L103.00 309.28L103.25 310.72L103.50 312.14L103.75 313.55L104.00 314.93L104.25 316.31L104.50 317.66L104.75 319.00L105.00 320.31L105.25 321.61L105.50 322.89L105.75 324.15L106.00 325.40L106.25 326.62L106.50 327.82L106.75 329.00L107.00 330.17L107.25 331.31L107.50 332.43L107.75 333.53L108.00 334.61L108.25 335.67L108.50 336.71L108.75 337.73L109.00 338.72L109.25 339.69L109.50 340.64L109.75 341.57L110.00 342.48L110.25 343.36L110.50 344.22L110.75 345.06L111.00 345.87L111.25 346.66L111.50 347.43L111.75 348.17L112.00 348.89L112.25 349.59L112.50 350.26L112.75 350.91L113.00 351.53L113.25 352.13L113.50 352.71L113.75 353.26L114.00 353.78L114.25 354.29L114.50 354.76L114.75 355.21L115.00 355.64L115.25 356.04L115.50 356.42L115.75 356.77L116.00 357.09L116.25 357.39L116.50 357.67L116.75 357.92L117.00 358.14L117.25 358.34L117.50 358.51L117.75 358.66L118.00 358.78L118.25 358.87L118.50 358.94L118.75 358.99L119.00 359.01L119.25 359.00L119.50 358.97L119.75 358.91L120.00 358.82L120.25 358.71L120.50 358.58L120.75 358.42L121.00 358.23L121.25 358.02L121.50 357.78L121.75 357.51L122.00 357.22L122.25 356.91L122.50 356.57L122.75 356.20L123.00 355.81L123.25 355.40L123.50 354.96L123.75 354.49L124.00 354.00L124.25 353.49L124.50 352.95L124.75 352.38L125.00 351.79L125.25 351.18L125.50 350.54L125.75 349.88L126.00 349.19L126.25 348.48L126.50 347.75L126.75 346.99L127.00 346.21L127.25 345.41L127.50 344.58L127.75 343.73L128.00 342.86L128.25 341.96L128.50 341.04L128.75 340.10L129.00 339.14L129.25 338.15L129.50 337.15L129.75 336.12L130.00 335.07L130.25 334.00L130.50 332.90L130.75 331.79L131.00 330.66L131.25 329.50L131.50 328.33L131.75 327.13L132.00 325.92L132.25 324.69L132.50 323.43L132.75 322.16L133.00 320.87L133.25 319.56L133.50 318.23L133.75 316.89L134.00 315.52L134.25 314.14L134.50 312.74L134.75 311.33L135.00 309.89L135.25 308.44L135.50 306.98L135.75 305.50L136.00 304.00L136.25 302.48L136.50 300.96L136.75 299.41L137.00 297.86L137.25 296.28L137.50 294.70L137.75 293.10L138.00 291.49L138.25 289.86L138.50 288.22L138.75 286.57L139.00 284.91L139.25 283.23L139.50 281.54L139.75 279.84L140.00 278.14L140.25 276.42L140.50 274.69L140.75 272.95L141.00 271.20L141.25 269.44L141.50 267.67L141.75 265.89L142.00 264.11L142.25 262.31L142.50 260.51L142.75 258.70L143.00 256.89L143.25 255.07L143.50 253.24L143.75 251.40L144.00 249.56L144.25 247.72L144.50 245.87L144.75 244.02L145.00 242.16L145.25 240.29L145.50 238.43L145.75 236.56L146.00 234.69L146.25 232.81L146.50 230.93L146.75 229.05L147.00 227.17L147.25 225.29L147.50 223.41L147.75 221.53L148.00 219.65L148.25 217.76L148.50 215.88L148.75 214.00L149.00 212.12L149.25 210.25L149.50 208.37L149.75 206.50L150.00 204.63L150.25 202.76L150.50 200.90L150.75 199.04L151.00 197.18L151.25 195.33L151.50 193.48L151.75 191.64L152.00 189.81L152.25 187.98L152.50 186.15L152.75 184.34L153.00 182.52L153.25 180.72L153.50 178.93L153.75 177.14L154.00 175.36L154.25 173.59L154.50 171.83L154.75 170.08L155.00 168.33L155.25 166.60L155.50 164.88L155.75 163.17L156.00 161.46L156.25 159.77L156.50 158.10L156.75 156.43L157.00 154.77L157.25 153.13L157.50 151.50L157.75 149.89L158.00 148.28L158.25 146.69L158.50 145.12L158.75 143.56L159.00 142.01L159.25 140.48L159.50 138.96L159.75 137.46L160.00 135.97L160.25 134.50L160.50 133.05L160.75 131.61L161.00 130.19L161.25 128.79L161.50 127.40L161.75 126.03L162.00 124.68L162.25 123.35L162.50 122.03L162.75 120.74L163.00 119.46L163.25 118.20L163.50 116.96L163.75 115.74L164.00 114.54L164.25 113.36L164.50 112.20L164.75 111.06L165.00 109.95L165.25 108.85L165.50 107.77L165.75 106.72L166.00 105.68L166.25 104.67L166.50 103.68L166.75 102.71L167.00 101.76L167.25 100.84L167.50 99.94L167.75 99.06L168.00 98.20L168.25 97.37L168.50 96.56L168.75 95.77L169.00 95.01L169.25 94.27L169.50 93.55L169.75 92.86L170.00 92.19L170.25 91.54L170.50 90.92L170.75 90.33L171.00 89.76L171.25 89.21L171.50 88.69L171.75 88.19L172.00 87.72L172.25 87.27L172.50 86.85L172.75 86.45L173.00 86.08L173.25 85.73L173.50 85.41L173.75 85.12L174.00 84.85L174.25 84.60L174.50 84.38L174.75 84.19L175.00 84.02L175.25 83.88L175.50 83.76L175.75 83.67L176.00 83.60L176.25 83.56L176.50 83.55L176.75 83.56L177.00 83.60L177.25 83.66L177.50 83.75L177.75 83.86L178.00 84.00L178.25 84.17L178.50 84.36L178.75 84.58L179.00 84.82L179.25 85.09L179.50 85.38L179.75 85.70L180.00 86.04L180.25 86.41L180.50 86.81L180.75 87.23L181.00 87.67L181.25 88.14L181.50 88.64L181.75 89.15L182.00 89.70L182.25 90.27L182.50 90.86L182.75 91.48L183.00 92.12L183.25 92.78L183.50 93.47L183.75 94.19L184.00 94.93L184.25 95.69L184.50 96.47L184.75 97.28L185.00 98.11L185.25 98.96L185.50 99.84L185.75 100.74L186.00 101.66L186.25 102.61L186.50 103.57L186.75 104.56L187.00 105.57L187.25 106.60L187.50 107.66L187.75 108.73L188.00 109.83L188.25 110.94L188.50 112.08L188.75 113.24L189.00 114.42L189.25 115.61L189.50 116.83L189.75 118.07L190.00 119.32L190.25 120.60L190.50 121.89L190.75 123.21L191.00 124.54L191.25 125.89L191.50 127.25L191.75 128.64L192.00 130.04L192.25 131.46L192.50 132.89L192.75 134.35L193.00 135.81L193.25 137.30L193.50 138.80L193.75 140.31L194.00 141.84L194.25 143.39L194.50 144.95L194.75 146.52L195.00 148.11L195.25 149.71L195.50 151.33L195.75 152.96L196.00 154.60L196.25 156.25L196.50 157.92L196.75 159.59L197.00 161.28L197.25 162.98L197.50 164.69L197.75 166.42L198.00 168.15L198.25 169.89L198.50 171.64L198.75 173.40L199.00 175.17L199.25 176.95L199.50 178.74L199.75 180.53L200.00 182.33L200.25 184.14L200.50 185.96L200.75 187.78L201.00 189.61L201.25 191.44L201.50 193.29L201.75 195.13L202.00 196.98L202.25 198.84L202.50 200.70L202.75 202.56L203.00 204.43L203.25 206.30L203.50 208.17L203.75 210.04L204.00 211.92L204.25 213.80L204.50 215.68L204.75 217.56L205.00 219.45L205.25 221.19L205.50 222.75L205.75 224.25L206.00 225.77L206.25 227.33L206.50 228.93L206.75 230.54L207.00 232.23L207.25 234.03L207.50 235.93L207.75 237.93L208.00 240.03L208.25 242.17L208.50 244.31L208.75 246.45L209.00 248.59L209.25 250.72L209.50 252.85L209.75 254.99L210.00 257.12L210.25 259.25L210.50 261.38L210.75 263.51L211.00 265.64L211.25 267.76L211.50 269.89L211.75 272.02L212.00 274.15L212.25 276.23L212.50 278.11L212.75 279.81L213.00 281.42L213.25 282.99L213.50 284.59L213.75 286.27L214.00 288.11L214.25 290.17L214.50 292.51L214.75 295.20L215.00 298.28L215.25 301.65L215.50 305.22L215.75 308.91L216.00 312.65L216.25 316.37L216.50 320.00L216.75 323.52L217.00 326.99L217.25 330.44L217.50 333.91L217.75 337.43L218.00 341.04L218.25 344.77L218.50 348.95L218.75 353.57L219.00 358.42L219.25 363.30L219.50 368.00L219.75 372.57L220.00 377.14L220.25 381.65L220.50 386.01L220.75 390.15L221.00 393.96L221.25 397.07L221.50 399.55L221.75 401.54L222.00 403.21L222.25 404.70L222.50 406.18L222.75 407.75L223.00 409.28L223.25 410.69L223.50 411.90L223.75 412.83L224.00 413.50L224.25 413.93L224.50 414.10L224.75 414.03L225.00 413.78L225.25 413.36L225.50 412.82L225.75 412.16L226.00 411.33L226.25 410.34L226.50 409.22L226.75 408.03L227.00 406.80L227.25 405.60L227.50 404.33L227.75 402.77L228.00 400.71L228.25 397.94L228.50 394.27L228.75 389.41L229.00 383.30L229.25 376.66L229.50 370.30L229.75 364.71L230.00 359.22L230.25 353.77L230.50 348.37L230.75 343.05L231.00 337.85L231.25 332.78L231.50 327.81L231.75 322.91L232.00 318.15L232.25 314.08L232.50 310.45L232.75 306.75L233.00 302.50L233.25 296.90L233.50 290.13L233.75 283.18L234.00 277.02L234.25 272.38L234.50 268.53L234.75 264.91L235.00 261.06L235.25 256.53L235.50 251.68L235.75 246.81L236.00 241.91L236.25 236.97L236.50 232.00L236.75 226.95L237.00 221.81L237.25 216.64L237.50 211.49L237.75 206.43L238.00 201.50L238.25 196.87L238.50 192.58L238.75 188.54L239.00 184.64L239.25 180.78L239.50 176.93L239.75 173.23L240.00 169.70L240.25 166.35L240.50 163.31L240.75 160.67L241.00 158.45L241.25 156.68L241.50 155.11L241.75 153.63L242.00 152.24L242.25 150.94L242.50 149.74L242.75 148.65L243.00 147.65L243.25 146.77L243.50 146.00L243.75 145.29L244.00 144.58L244.25 143.88L244.50 143.19L244.75 142.52L245.00 141.86L245.25 141.21L245.50 140.59L245.75 140.00L246.00 139.43L246.25 138.89L246.50 138.37L246.75 137.83L247.00 137.31L247.25 136.78L247.50 136.26L247.75 135.75L248.00 135.24L248.25 134.75L248.50 134.27L248.75 133.81L249.00 133.36L249.25 132.94L249.50 132.53L249.75 132.15L250.00 131.80L250.25 131.47L250.50 131.17L250.75 130.88L251.00 130.62L251.25 130.37L251.50 130.14L251.75 129.92L252.00 129.71L252.25 129.51L252.50 129.32L252.75 129.14L253.00 128.96L253.25 128.78L253.50 128.60L253.75 128.43L254.00 128.28L254.25 128.14L254.50 128.02L254.75 127.92L255.00 127.83L255.25 127.75L255.50 127.70L255.75 127.65L256.00 127.62L256.25 127.60L256.50 127.60L256.75 127.62L257.00 127.70L257.25 127.84L257.50 128.06L257.75 128.33L258.00 128.66L258.25 129.06L258.50 129.51L258.75 130.01L259.00 130.57L259.25 131.18L259.50 131.84L259.75 132.55L260.00 133.31L260.25 134.18L260.50 135.16L260.75 136.24L261.00 137.41L261.25 138.67L261.50 140.00L261.75 141.38L262.00 142.79L262.25 144.27L262.50 145.82L262.75 147.48L263.00 149.25L263.25 151.15L263.50 153.12L263.75 155.16L264.00 157.26L264.25 159.40L264.50 161.60L264.75 163.83L265.00 166.09L265.25 168.42L265.50 170.81L265.75 173.31L266.00 175.89L266.25 178.58L266.50 181.36L266.75 184.24L267.00 187.22L267.25 190.23L267.50 193.22L267.75 196.13L268.00 198.95L268.25 201.75L268.50 204.54L268.75 207.33L269.00 210.12L269.25 212.94L269.50 215.78L269.75 218.65L270.00 221.50L270.25 224.22L270.50 226.83L270.75 229.46L271.00 232.24L271.25 235.27L271.50 238.54L271.75 242.01L272.00 245.55L272.25 249.05L272.50 252.39L272.75 255.51L273.00 258.37L273.25 261.05L273.50 263.64L273.75 266.13L274.00 268.51L274.25 270.76L274.50 272.88L274.75 274.87L275.00 276.73L275.25 278.46L275.50 280.08L275.75 281.57L276.00 282.96L276.25 284.24L276.50 285.42L276.75 286.50L277.00 287.48L277.25 288.34L277.50 289.09L277.75 289.71L278.00 290.23L278.25 290.64L278.50 290.99L278.75 291.28L279.00 291.53L279.25 291.76L279.50 291.98L279.75 292.19L280.00 292.40L280.25 292.61L280.50 292.82L280.75 293.03L281.00 293.24L281.25 293.44L281.50 293.65L281.75 293.87L282.00 294.09L282.25 294.33L282.50 294.57L282.75 294.84L283.00 295.14L283.25 295.49L283.50 295.92L283.75 296.45L284.00 297.10L284.25 297.89L284.50 298.81L284.75 299.87L285.00 301.05L285.25 302.33L285.50 303.72L285.75 305.18L286.00 306.71L286.25 308.29L286.50 309.92L286.75 311.59L287.00 313.29L287.25 315.00L287.50 316.73L287.75 318.46L288.00 320.17L288.25 321.88L288.50 323.59L288.75 325.31L289.00 327.05L289.25 328.81L289.50 330.61L289.75 332.44L290.00 334.30L290.25 336.18L290.50 338.05L290.75 339.91L291.00 341.76L291.25 343.58L291.50 345.39L291.75 347.19L292.00 348.98L292.25 350.77L292.50 352.55L292.75 354.35L293.00 356.14L293.25 357.94L293.50 359.73L293.75 361.51L294.00 363.28L294.25 365.04L294.50 366.77L294.75 368.45L295.00 370.06L295.25 371.55L295.50 372.88L295.75 374.05L296.00 375.01L296.25 375.77L296.50 376.31L296.75 376.63L297.00 376.71L297.25 376.56L297.50 376.20L297.75 375.65L298.00 374.94L298.25 374.10L298.50 373.18L298.75 372.18L299.00 371.14L299.25 370.06L299.50 368.95L299.75 367.81L300.00 366.63L300.25 365.43L300.50 364.20L300.75 362.95L301.00 361.66L301.25 360.34L301.50 358.98L301.75 357.58L302.00 356.12L302.25 354.61L302.50 353.03L302.75 351.38L303.00 349.67L303.25 347.93L303.50 346.18L303.75 344.46L304.00 342.80L304.25 341.21L304.50 339.68L304.75 338.22L305.00 336.82L305.25 335.47L305.50 334.18L305.75 332.95L306.00 331.77L306.25 330.64L306.50 329.57L306.75 328.53L307.00 327.54L307.25 326.58L307.50 325.65L307.75 324.76L308.00 323.92L308.25 323.11L308.50 322.35L308.75 321.64L309.00 320.98L309.25 320.37L309.50 319.81L309.75 319.29L310.00 318.81L310.25 318.36L310.50 317.93L310.75 317.53L311.00 317.14L311.25 316.76L311.50 316.39L311.75 316.01L312.00 315.62L312.25 315.23L312.50 314.81L312.75 314.38L313.00 313.92L313.25 313.44L313.50 312.95L313.75 312.43L314.00 311.90L314.25 311.35L314.50 310.79L314.75 310.21L315.00 309.61L315.25 308.98L315.50 308.34L315.75 307.67L316.00 306.97L316.25 306.23L316.50 305.46L316.75 304.65L317.00 303.80L317.25 302.90L317.50 301.96L317.75 300.98L318.00 299.96L318.25 298.89L318.50 297.79L318.75 296.63L319.00 295.43L319.25 294.17L319.50 292.85L319.75 291.49L320.00 290.08L320.25 288.64L320.50 287.18L320.75 285.69L321.00 284.16L321.25 282.60L321.50 280.98L321.75 279.28L322.00 277.48L322.25 275.55L322.50 273.47L322.75 271.22L323.00 268.84L323.25 266.34L323.50 263.78L323.75 261.23L324.00 258.71L324.25 256.26L324.50 253.87L324.75 251.52L325.00 249.17L325.25 246.81L325.50 244.41L325.75 241.97L326.00 239.48L326.25 236.94L326.50 234.33L326.75 231.65L327.00 228.86L327.25 225.94L327.50 222.87L327.75 219.61L328.00 216.17L328.25 212.56L328.50 208.85L328.75 205.12L329.00 201.46L329.25 197.94L329.50 194.59L329.75 191.41L330.00 188.40L330.25 185.52L330.50 182.76L330.75 180.09L331.00 177.52L331.25 175.04L331.50 172.68L331.75 170.45L332.00 168.35L332.25 166.38L332.50 164.55L332.75 162.83L333.00 161.24L333.25 159.76L333.50 158.39L333.75 157.13L334.00 155.96L334.25 154.90L334.50 153.94L334.75 153.09L335.00 152.36L335.25 151.76L335.50 151.26L335.75 150.86L336.00 150.52L336.25 150.24L336.50 149.99L336.75 149.76L337.00 149.55L337.25 149.33L337.50 149.13L337.75 148.92L338.00 148.71L338.25 148.50L338.50 148.29L338.75 148.08L339.00 147.87L339.25 147.66L339.50 147.43L339.75 147.20L340.00 146.94L340.25 146.67L340.50 146.37L340.75 146.00L341.00 145.56L341.25 145.01L341.50 144.34L341.75 143.53L342.00 142.59L342.25 141.51L342.50 140.31L342.75 139.01L343.00 137.61L343.25 136.14L343.50 134.60L343.75 133.01L344.00 131.38L344.25 129.70L344.50 128.00L344.75 126.28L345.00 124.55L345.25 122.83L345.50 121.11L345.75 119.40L346.00 117.69L346.25 115.97L346.50 114.23L346.75 112.46L347.00 110.66L347.25 108.82L347.50 106.96L347.75 105.08L348.00 103.21L348.25 101.35L348.50 99.51L348.75 97.69L349.00 95.88L349.25 94.09L349.50 92.30L349.75 90.51L350.00 88.72L350.25 86.93L350.50 85.13L350.75 83.34L351.00 81.55L351.25 79.77L351.50 78.00L351.75 76.24L352.00 74.52L352.25 72.84L352.50 71.26L352.75 69.79L353.00 68.48L353.25 67.35L353.50 66.41L353.75 65.68L354.00 65.17L354.25 64.88L354.50 64.81L354.75 64.96L355.00 65.30L355.25 65.82L355.50 66.47L355.75 67.24L356.00 68.09L356.25 69.00L356.50 69.94L356.75 70.92L357.00 71.92L357.25 72.94L357.50 73.99L357.75 75.06L358.00 76.15L358.25 77.26L358.50 78.38L358.75 79.53L359.00 80.70L359.25 81.91L359.50 83.16L359.75 84.47L360.00 85.85L360.25 87.33L360.50 88.91L360.75 90.60L361.00 92.38L361.25 94.21L361.50 96.06L361.75 97.88L362.00 99.64L362.25 101.33L362.50 102.95L362.75 104.50L363.00 105.99L363.25 107.41L363.50 108.77L363.75 110.05L364.00 111.27L364.25 112.43L364.50 113.54L364.75 114.60L365.00 115.61L365.25 116.59L365.50 117.51L365.75 118.38L366.00 119.19L366.25 119.94L366.50 120.63L366.75 121.26L367.00 121.84L367.25 122.37L367.50 122.85L367.75 123.30L368.00 123.73L368.25 124.13L368.50 124.51L368.75 124.89L369.00 125.26L369.25 125.63L369.50 126.02L369.75 126.41L370.00 126.83L370.25 127.26L370.50 127.72L370.75 128.20L371.00 128.70L371.25 129.21L371.50 129.75L371.75 130.30L372.00 130.86L372.25 131.45L372.50 132.05L372.75 132.68L373.00 133.33L373.25 134.00L373.50 134.71L373.75 135.45L374.00 136.23L374.25 137.04L374.50 137.90L374.75 138.81L375.00 139.75L375.25 140.74L375.50 141.77L375.75 142.84L376.00 143.95L376.25 145.12L376.50 146.33L376.75 147.60L377.00 148.92L377.25 150.29L377.50 151.70L377.75 153.15L378.00 154.62L378.25 156.11L378.50 157.64L378.75 159.21L379.00 160.84L379.25 162.56L379.50 164.38L379.75 166.33L380.00 168.44L380.25 170.71L380.50 173.12L380.75 175.63L381.00 178.19L381.25 180.74L381.50 183.24L381.75 185.68L382.00 188.07L382.25 190.42L382.50 192.76L382.75 195.13L383.00 197.54L383.25 199.99L383.50 202.48L383.75 205.04L384.00 207.65L384.25 210.35L384.50 213.16L384.75 216.10L385.00 219.20L385.25 222.49L385.50 225.96L385.75 229.59L386.00 233.31L386.25 237.03L386.50 240.67L386.75 244.17L387.00 247.49L387.25 250.64L387.50 253.63L387.75 256.49L388.00 259.23L388.25 261.89L388.50 264.44L388.75 266.90L389.00 269.24L389.25 271.45L389.50 273.53L389.75 275.48L390.00 277.30L390.25 278.99L390.50 280.57L390.75 282.03L391.00 283.38L391.25 284.63L391.50 285.77L391.75 286.82L392.00 287.77L392.25 288.59L392.50 289.30L392.75 289.89L393.00 290.37L393.25 290.76L393.50 291.08L393.75 291.36L394.00 291.61L394.25 291.83L394.50 292.05L394.75 292.26L395.00 292.47L395.25 292.68L395.50 292.89L395.75 293.09L396.00 293.30L396.25 293.51L396.50 293.72L396.75 293.94L397.00 294.17L397.25 294.40L397.50 294.66L397.75 294.93L398.00 295.25L398.25 295.62L398.50 296.08L398.75 296.64L399.00 297.34L399.25 298.17L399.50 299.14L399.75 300.23L400.00 301.45L400.25 302.77L400.50 304.18L400.75 305.66L401.00 307.21L401.25 308.81L401.50 310.45L401.75 312.13L402.00 313.83L402.25 315.56L402.50 317.28L402.75 319.01L403.00 320.72L403.25 322.43L403.50 324.14L403.75 325.86L404.00 327.61L404.25 329.38L404.50 331.19L404.75 333.04L405.00 334.90L405.25 336.78L405.50 338.65L405.75 340.50L406.00 342.34L406.25 344.16L406.50 345.97L406.75 347.76L407.00 349.55L407.25 351.34L407.50 353.13L407.75 354.92L408.00 356.72L408.25 358.51L408.50 360.30L408.75 362.08L409.00 363.85L409.25 365.60L409.50 367.31L409.75 368.98L410.00 370.55L410.25 371.99L410.50 373.28L410.75 374.38L411.00 375.28L411.25 375.97L411.50 376.44L411.75 376.68L412.00 376.69L412.25 376.47L412.50 376.05L412.75 375.44L413.00 374.68L413.25 373.81L413.50 372.86L413.75 371.86L414.00 370.80L414.25 369.71L414.50 368.59L414.75 367.43L415.00 366.25L415.25 365.04L415.50 363.80L415.75 362.54L416.00 361.24L416.25 359.91L416.50 358.54L416.75 357.12L417.00 355.65L417.25 354.11L417.50 352.51L417.75 350.84L418.00 349.11L418.25 347.37L418.50 345.63L418.75 343.92L419.00 342.28L419.25 340.71L419.50 339.21L419.75 337.77L420.00 336.38L420.25 335.06L420.50 333.78L420.75 332.57L421.00 331.40L421.25 330.29L421.50 329.23L421.75 328.21L422.00 327.23L422.25 326.28L422.50 325.36L422.75 324.49L423.00 323.65L423.25 322.86L423.50 322.12L423.75 321.43L424.00 320.78L424.25 320.19L424.50 319.64L424.75 319.13L425.00 318.66L425.25 318.22L425.50 317.80L425.75 317.40L426.00 317.02L426.25 316.64L426.50 316.27L426.75 315.89L427.00 315.50L427.25 315.09L427.50 314.67L427.75 314.23L428.00 313.77L428.25 313.29L428.50 312.78L428.75 312.26L429.00 311.73L429.25 311.18L429.50 310.61L429.75 310.02L430.00 309.41L430.25 308.78L430.50 308.13L430.75 307.45L431.00 306.73L431.25 305.99L431.50 305.21L431.75 304.38L432.00 303.51L432.25 302.60L432.50 301.65L432.75 300.66L433.00 299.62L433.25 298.54L433.50 297.42L433.75 296.25L434.00 295.03L434.25 293.75L434.50 292.42L434.75 291.04L435.00 289.63L435.25 288.18L435.50 286.70L435.75 285.20L436.00 283.67L436.25 282.09L436.50 280.45L436.75 278.72L437.00 276.88L437.25 274.90L437.50 272.77L437.75 270.47L438.00 268.05L438.25 265.52L438.50 262.96L438.75 260.42L439.00 257.92L439.25 255.49L439.50 253.11L439.75 250.77L440.00 248.42L440.25 246.05L440.50 243.63L440.75 241.18L441.00 238.67L441.25 236.11L441.50 233.48L441.75 230.77L442.00 227.94L442.25 224.98L442.50 221.85L442.75 218.53L443.00 215.03L443.25 211.38L443.50 207.65L443.75 203.94L444.00 200.32L444.25 196.85L444.50 193.55L444.75 190.43L445.00 187.47L445.25 184.63L445.50 181.89L445.75 179.26L446.00 176.71L446.25 174.28L446.50 171.96L446.75 169.76L447.00 167.71L447.25 165.78L447.50 163.98L447.75 162.31L448.00 160.75L448.25 159.31L448.50 157.97L448.75 156.74L449.00 155.61L449.25 154.58L449.50 153.65L449.75 152.84L450.00 152.16L450.25 151.59L450.50 151.12L450.75 150.74L451.00 150.43L451.25 150.16L451.50 149.92L451.75 149.69L452.00 149.48L452.25 149.27L452.50 149.06L452.75 148.85L453.00 148.64L453.25 148.43L453.50 148.23L453.75 148.02L454.00 147.80L454.25 147.59L454.50 147.36L454.75 147.12L455.00 146.86L455.25 146.58L455.50 146.26L455.75 145.87L456.00 145.40L456.25 144.81L456.50 144.10L456.75 143.24L457.00 142.26L457.25 141.14L457.50 139.91L457.75 138.57L458.00 137.15L458.25 135.65L458.50 134.10L458.75 132.49L459.00 130.85L459.25 129.16L459.50 127.45L459.75 125.73L460.00 124.00L460.25 122.28L460.50 120.56L460.75 118.86L461.00 117.14L461.25 115.42L461.50 113.67L461.75 111.89L462.00 110.07L462.25 108.23L462.50 106.36L462.75 104.48L463.00 102.61L463.25 100.76L463.50 98.92L463.75 97.11L464.00 95.30L464.25 93.51L464.50 91.72L464.75 89.94L465.00 88.15L465.25 86.35L465.50 84.56L465.75 82.76L466.00 80.98L466.25 79.20L466.50 77.43L466.75 75.69L467.00 73.98L467.25 72.33L467.50 70.77L467.75 69.35L468.00 68.09L468.25 67.03L468.50 66.16L468.75 65.50L469.00 65.06L469.25 64.83L469.50 64.83L469.75 65.05L470.00 65.45L470.25 66.01L470.50 66.71L470.75 67.51L471.00 68.38L471.25 69.30L471.50 70.25L471.75 71.23L472.00 72.24L472.25 73.28L472.50 74.33L472.75 75.41L473.00 76.50L473.25 77.62L473.50 78.75L473.75 79.90L474.00 81.08L474.25 82.30L474.50 83.57L474.75 84.90L475.00 86.31L475.25 87.82L475.50 89.44L475.75 91.16L476.00 92.96L476.25 94.80L476.50 96.65L476.75 98.45L477.00 100.19L477.25 101.86L477.50 103.46L477.75 104.99L478.00 106.45L478.25 107.86L478.50 109.19L478.75 110.45L479.00 111.65L479.25 112.79L479.50 113.88L479.75 114.93L480.00 115.93L480.25 116.89L480.50 117.79L480.75 118.64L481.00 119.43L481.25 120.17L481.50 120.84L481.75 121.45L482.00 122.01L482.25 122.53L482.50 123.00L482.75 123.44L483.00 123.86L483.25 124.25L483.50 124.63L483.75 125.01L484.00 125.38L484.25 125.75L484.50 126.14L484.75 126.54L485.00 126.96L485.25 127.40L485.50 127.87L485.75 128.35L486.00 128.86L486.25 129.38L486.50 129.92L486.75 130.47L487.00 131.05L487.25 131.64L487.50 132.25L487.75 132.88L488.00 133.54L488.25 134.23L488.50 134.94L488.75 135.69L489.00 136.48L489.25 137.31L489.50 138.19L489.75 139.11L490.00 140.07L490.25 141.07L490.50 142.11L490.75 143.19L491.00 144.32L491.25 145.50L491.50 146.73L491.75 148.02L492.00 149.36L492.25 150.74L492.50 152.16L492.75 153.62L493.00 155.09L493.25 156.60L493.50 158.14L493.75 159.73L494.00 161.38L494.25 163.13L494.50 164.99L494.75 166.99L495.00 169.15L495.25 171.47L495.50 173.91L495.75 176.45L496.00 179.01L496.25 181.55L496.50 184.03L496.75 186.45L497.00 188.82L497.25 191.17L497.50 193.52L497.75 195.90L498.00 198.32L498.25 200.78L498.50 203.29L498.75 205.87L499.00 208.51L499.25 211.24L499.50 214.08L499.75 217.07L500.00 220.23L500.25 223.58L500.50 227.11L500.75 230.77L501.00 234.50L501.25 238.21L501.50 241.81L501.75 245.25L502.00 248.52L502.25 251.61L502.50 254.56L502.75 257.38L503.00 260.09L503.25 262.72L503.50 265.24L503.75 267.66L504.00 269.96L504.25 272.13L504.50 274.17L504.75 276.07L505.00 277.85L505.25 279.51L505.50 281.05L505.75 282.47L506.00 283.79L506.25 285.00L506.50 286.12L506.75 287.14L507.00 288.04L507.25 288.83L507.50 289.50L507.75 290.05L508.00 290.50L508.25 290.87L508.50 291.18L508.75 291.44L509.00 291.68L509.25 291.90L509.50 292.12L509.75 292.33L510.00 292.54L510.25 292.74L510.50 292.95L510.75 293.16L511.00 293.37L511.25 293.58L511.50 293.79L511.75 294.01L512.00 294.24L512.25 294.48L512.50 294.74L512.75 295.03L513.00 295.36L513.25 295.76L513.50 296.25L513.75 296.85L514.00 297.59L514.25 298.47L514.50 299.47L514.75 300.61L515.00 301.86L515.25 303.21L515.50 304.64L515.75 306.15L516.00 307.72L516.25 309.33L516.50 310.98L516.75 312.67L517.00 314.38L517.25 316.11L517.50 317.84L517.75 319.56L518.00 321.27L518.25 322.98L518.50 324.69L518.75 326.42L519.00 328.17L519.25 329.96L519.50 331.78L519.75 333.63L520.00 335.50L520.25 337.38L520.50 339.24L520.75 341.10L521.00 342.93L521.25 344.74L521.50 346.54L521.75 348.33L522.00 350.12L522.25 351.91L522.50 353.70L522.75 355.49L523.00 357.29L523.25 359.08L523.50 360.87L523.75 362.65L524.00 364.41L524.25 366.15L524.50 367.85L524.75 369.49L525.00 371.03L525.25 372.42L525.50 373.65L525.75 374.69L526.00 375.52L526.25 376.14L526.50 376.54L526.75 376.71L527.00 376.64L527.25 376.36L527.50 375.87L527.75 375.21L528.00 374.41L528.25 373.52L528.50 372.55L528.75 371.52L529.00 370.46L529.25 369.36L529.50 368.22L529.75 367.06L530.00 365.87L530.25 364.65L530.50 363.40L530.75 362.13L531.00 360.82L531.25 359.47L531.50 358.09L531.75 356.65L532.00 355.16L532.25 353.61L532.50 351.98L532.75 350.29L533.00 348.56L533.25 346.81L533.50 345.08L533.75 343.39L534.00 341.77L534.25 340.22L534.50 338.74L534.75 337.32L535.00 335.95L535.25 334.64L535.50 333.39L535.75 332.19L536.00 331.04L536.25 329.95L536.50 328.90L536.75 327.89L537.00 326.92L537.25 325.98L537.50 325.08L537.75 324.22L538.00 323.40L538.25 322.62L538.50 321.89L538.75 321.21L539.00 320.59L539.25 320.01L539.50 319.47L539.75 318.98L540.00 318.52" stroke="#DE7D00"/>
<path d="M69.00 330.93L69.25 332.05L69.50 333.15L69.75 334.22L70.00 335.28L70.25 336.31L70.50 337.32L70.75 338.31L71.00 339.27L71.25 340.22L71.50 341.14L71.75 342.04L72.00 342.92L72.25 343.77L72.50 344.60L72.75 345.41L73.00 346.20L73.25 346.96L73.50 347.69L73.75 348.41L74.00 349.10L74.25 349.77L74.50 350.41L74.75 351.03L75.00 351.62L75.25 352.19L75.50 352.73L75.75 353.25L76.00 353.75L76.25 354.22L76.50 354.66L76.75 355.08L77.00 355.48L77.25 355.85L77.50 356.19L77.75 356.51L78.00 356.81L78.25 357.08L78.50 357.32L78.75 357.54L79.00 357.73L79.25 357.90L79.50 358.04L79.75 358.15L80.00 358.24L80.25 358.31L80.50 358.34L80.75 358.36L81.00 358.34L81.25 358.30L81.50 358.24L81.75 358.15L82.00 358.03L82.25 357.89L82.50 357.72L82.75 357.53L83.00 357.31L83.25 357.07L83.50 356.80L83.75 356.50L84.00 356.18L84.25 355.84L84.50 355.47L84.75 355.07L85.00 354.65L85.25 354.21L85.50 353.73L85.75 353.24L86.00 352.72L86.25 352.17L86.50 351.60L86.75 351.01L87.00 350.39L87.25 349.75L87.50 349.08L87.75 348.39L88.00 347.68L88.25 346.94L88.50 346.17L88.75 345.39L89.00 344.58L89.25 343.75L89.50 342.89L89.75 342.02L90.00 341.12L90.25 340.19L90.50 339.25L90.75 338.28L91.00 337.29L91.25 336.28L91.50 335.25L91.75 334.19L92.00 333.12L92.25 332.02L92.50 330.90L92.75 329.77L93.00 328.61L93.25 327.43L93.50 326.23L93.75 325.02L94.00 323.78L94.25 322.52L94.50 321.25L94.75 319.95L95.00 318.64L95.25 317.31L95.50 315.96L95.75 314.59L96.00 313.21L96.25 311.81L96.50 310.39L96.75 308.95L97.00 307.50L97.25 306.03L97.50 304.55L97.75 303.05L98.00 301.53L98.25 300.00L98.50 298.46L98.75 296.90L99.00 295.32L99.25 293.73L99.50 292.13L99.75 290.52L100.00 288.89L100.25 287.25L100.50 285.60L100.75 283.93L101.00 282.25L101.25 280.57L101.50 278.87L101.75 277.16L102.00 275.44L102.25 273.70L102.50 271.96L102.75 270.21L103.00 268.45L103.25 266.68L103.50 264.91L103.75 263.12L104.00 261.33L104.25 259.53L104.50 257.72L104.75 255.90L105.00 254.08L105.25 252.25L105.50 250.42L105.75 248.58L106.00 246.73L106.25 244.88L106.50 243.03L106.75 241.17L107.00 239.31L107.25 237.44L107.50 235.57L107.75 233.70L108.00 231.83L108.25 229.95L108.50 228.08L108.75 226.20L109.00 224.32L109.25 222.44L109.50 220.55L109.75 218.67L110.00 216.79L110.25 214.91L110.50 213.03L110.75 211.16L111.00 209.28L111.25 207.41L111.50 205.54L111.75 203.67L112.00 201.80L112.25 199.94L112.50 198.08L112.75 196.23L113.00 194.38L113.25 192.54L113.50 190.70L113.75 188.87L114.00 187.04L114.25 185.22L114.50 183.40L114.75 181.60L115.00 179.80L115.25 178.01L115.50 176.22L115.75 174.45L116.00 172.68L116.25 170.92L116.50 169.17L116.75 167.43L117.00 165.70L117.25 163.98L117.50 162.27L117.75 160.58L118.00 158.89L118.25 157.22L118.50 155.55L118.75 153.90L119.00 152.26L119.25 150.64L119.50 149.03L119.75 147.43L120.00 145.84L120.25 144.27L120.50 142.71L120.75 141.17L121.00 139.64L121.25 138.13L121.50 136.64L121.75 135.15L122.00 133.69L122.25 132.24L122.50 130.81L122.75 129.39L123.00 127.99L123.25 126.61L123.50 125.25L123.75 123.90L124.00 122.57L124.25 121.27L124.50 119.97L124.75 118.70L125.00 117.45L125.25 116.22L125.50 115.00L125.75 113.81L126.00 112.63L126.25 111.48L126.50 110.34L126.75 109.23L127.00 108.14L127.25 107.07L127.50 106.02L127.75 104.99L128.00 103.98L128.25 103.00L128.50 102.03L128.75 101.09L129.00 100.17L129.25 99.28L129.50 98.40L129.75 97.55L130.00 96.73L130.25 95.92L130.50 95.14L130.75 94.38L131.00 93.65L131.25 92.94L131.50 92.25L131.75 91.59L132.00 90.95L132.25 90.34L132.50 89.75L132.75 89.18L133.00 88.64L133.25 88.13L133.50 87.64L133.75 87.17L134.00 86.73L134.25 86.31L134.50 85.92L134.75 85.55L135.00 85.21L135.25 84.90L135.50 84.61L135.75 84.34L136.00 84.10L136.25 83.89L136.50 83.70L136.75 83.54L137.00 83.40L137.25 83.29L137.50 83.21L137.75 83.15L138.00 83.11L138.25 83.10L138.50 83.12L138.75 83.16L139.00 83.23L139.25 83.33L139.50 83.45L139.75 83.59L140.00 83.76L140.25 83.96L140.50 84.18L140.75 84.43L141.00 84.71L141.25 85.00L141.50 85.33L141.75 85.68L142.00 86.05L142.25 86.45L142.50 86.88L142.75 87.33L143.00 87.80L143.25 88.30L143.50 88.83L143.75 89.38L144.00 89.95L144.25 90.55L144.50 91.17L144.75 91.82L145.00 92.49L145.25 93.18L145.50 93.90L145.75 94.64L146.00 95.41L146.25 96.20L146.50 97.01L146.75 97.85L147.00 98.70L147.25 99.59L147.50 100.49L147.75 101.42L148.00 102.37L148.25 103.34L148.50 104.33L148.75 105.34L149.00 106.38L149.25 107.44L149.50 108.52L149.75 109.62L150.00 110.74L150.25 111.88L150.50 113.04L150.75 114.22L151.00 115.42L151.25 116.64L151.50 117.88L151.75 119.14L152.00 120.42L152.25 121.72L152.50 123.03L152.75 124.37L153.00 125.72L153.25 127.09L153.50 128.48L153.75 129.88L154.00 131.30L154.25 132.74L154.50 134.19L154.75 135.67L155.00 137.15L155.25 138.65L155.50 140.17L155.75 141.70L156.00 143.25L156.25 144.81L156.50 146.39L156.75 147.98L157.00 149.58L157.25 151.20L157.50 152.83L157.75 154.47L158.00 156.13L158.25 157.80L158.50 159.47L158.75 161.16L159.00 162.87L159.25 164.58L159.50 166.30L159.75 168.03L160.00 169.78L160.25 171.53L160.50 173.29L160.75 175.06L161.00 176.84L161.25 178.63L161.50 180.42L161.75 182.22L162.00 184.03L162.25 185.85L162.50 187.67L162.75 189.50L163.00 191.34L163.25 193.18L163.50 195.02L163.75 196.87L164.00 198.73L164.25 200.59L164.50 202.45L164.75 204.32L165.00 206.18L165.25 208.06L165.50 209.93L165.75 211.81L166.00 213.68L166.25 215.56L166.50 217.44L166.75 219.33L167.00 221.21L167.25 223.09L167.50 224.97L167.75 226.85L168.00 228.73L168.25 230.60L168.50 232.48L168.75 234.35L169.00 236.22L169.25 238.09L169.50 239.95L169.75 241.82L170.00 243.67L170.25 245.53L170.50 247.37L170.75 249.22L171.00 251.05L171.25 252.89L171.50 254.71L171.75 256.53L172.00 258.34L172.25 260.15L172.50 261.95L172.75 263.74L173.00 265.52L173.25 267.30L173.50 269.06L173.75 270.82L174.00 272.57L174.25 274.31L174.50 276.03L174.75 277.75L175.00 279.46L175.25 281.15L175.50 282.84L175.75 284.51L176.00 286.17L176.25 287.82L176.50 289.46L176.75 291.08L177.00 292.69L177.25 294.29L177.50 295.87L177.75 297.44L178.00 298.99L178.25 300.53L178.50 302.06L178.75 303.57L179.00 305.06L179.25 306.54L179.50 308.00L179.75 309.45L180.00 310.88L180.25 312.29L180.50 313.69L180.75 315.07L181.00 316.43L181.25 317.77L181.50 319.10L181.75 320.40L182.00 321.69L182.25 322.96L182.50 324.21L182.75 325.44L183.00 326.65L183.25 327.84L183.50 329.01L183.75 330.16L184.00 331.29L184.25 332.40L184.50 333.49L184.75 334.56L185.00 335.61L185.25 336.63L185.50 337.64L185.75 338.62L186.00 339.58L186.25 340.52L186.50 341.43L186.75 342.32L187.00 343.19L187.25 344.04L187.50 344.86L187.75 345.66L188.00 346.44L188.25 347.20L188.50 347.93L188.75 348.63L189.00 349.31L189.25 349.97L189.50 350.61L189.75 351.22L190.00 351.80L190.25 352.36L190.50 352.90L190.75 353.41L191.00 353.90L191.25 354.36L191.50 354.80L191.75 355.21L192.00 355.60L192.25 355.96L192.50 356.30L192.75 356.61L193.00 356.90L193.25 357.16L193.50 357.39L193.75 357.60L194.00 357.79L194.25 357.94L194.50 358.08L194.75 358.18L195.00 358.26L195.25 358.32L195.50 358.35L195.75 358.35L196.00 358.33L196.25 358.29L196.50 358.21L196.75 358.11L197.00 357.99L197.25 357.84L197.50 357.67L197.75 357.46L198.00 357.24L198.25 356.99L198.50 356.71L198.75 356.41L199.00 356.08L199.25 355.72L199.50 355.34L199.75 354.94L200.00 354.51L200.25 354.06L200.50 353.58L200.75 353.07L201.00 352.55L201.25 351.99L201.50 351.42L201.75 350.81L202.00 350.19L202.25 349.54L202.50 348.86L202.75 348.16L203.00 347.44L203.25 346.70L203.50 345.93L203.75 345.13L204.00 344.32L204.25 343.48L204.50 342.62L204.75 341.73L205.00 340.82L205.25 339.88L205.50 338.88L205.75 337.80L206.00 336.64L206.25 335.39L206.50 334.05L206.75 332.63L207.00 331.13L207.25 329.57L207.50 327.97L207.75 326.36L208.00 324.81L208.25 323.31L208.50 321.80L208.75 320.30L209.00 318.81L209.25 317.33L209.50 315.85L209.75 314.37L210.00 312.90L210.25 311.42L210.50 309.95L210.75 308.48L211.00 307.01L211.25 305.54L211.50 304.07L211.75 302.60L212.00 301.13L212.25 299.66L212.50 298.18L212.75 296.71L213.00 295.24L213.25 293.77L213.50 292.27L213.75 290.71L214.00 289.07L214.25 287.31L214.50 285.41L214.75 283.34L215.00 280.93L215.25 277.33L215.50 273.49L215.75 269.61L216.00 265.63L216.25 261.58L216.50 257.50L216.75 253.77L217.00 249.94L217.25 244.78L217.50 237.07L217.75 226.22L218.00 214.30L218.25 202.06L218.50 190.00L218.75 178.01L219.00 166.34L219.25 156.61L219.50 150.59L219.75 145.99L220.00 141.01L220.25 136.09L220.50 131.00L220.75 125.57L221.00 119.96L221.25 114.37L221.50 109.00L221.75 104.01L222.00 99.37L222.25 94.96L222.50 90.69L222.75 86.48L223.00 82.38L223.25 78.51L223.50 74.95L223.75 71.80L224.00 69.16L224.25 67.11L224.50 65.59L224.75 64.47L225.00 63.60L225.25 62.86L225.50 62.20L225.75 61.78L226.00 61.73L226.25 62.03L226.50 62.64L226.75 63.49L227.00 64.54L227.25 65.77L227.50 67.16L227.75 68.70L228.00 70.40L228.25 72.29L228.50 74.34L228.75 76.55L229.00 78.92L229.25 81.43L229.50 84.10L229.75 87.18L230.00 90.68L230.25 94.54L230.50 98.76L230.75 103.71L231.00 109.03L231.25 114.19L231.50 118.70L231.75 122.41L232.00 125.61L232.25 128.58L232.50 131.61L232.75 134.99L233.00 139.00L233.25 144.56L233.50 151.17L233.75 157.07L234.00 161.31L234.25 164.96L234.50 168.26L234.75 171.38L235.00 174.52L235.25 177.87L235.50 181.60L235.75 185.91L236.00 190.70L236.25 195.73L236.50 200.85L236.75 205.89L237.00 210.69L237.25 215.15L237.50 219.49L237.75 223.64L238.00 227.53L238.25 231.08L238.50 234.21L238.75 237.13L239.00 239.88L239.25 242.49L239.50 244.95L239.75 247.28L240.00 249.50L240.25 251.59L240.50 253.62L240.75 255.65L241.00 257.66L241.25 259.63L241.50 261.56L241.75 263.43L242.00 265.22L242.25 266.92L242.50 268.50L242.75 269.99L243.00 271.44L243.25 272.84L243.50 274.23L243.75 275.60L244.00 276.98L244.25 278.38L244.50 279.82L244.75 281.30L245.00 282.81L245.25 284.32L245.50 285.84L245.75 287.36L246.00 288.91L246.25 290.49L246.50 292.12L246.75 293.80L247.00 295.55L247.25 297.37L247.50 299.24L247.75 301.13L248.00 303.06L248.25 305.00L248.50 306.97L248.75 308.97L249.00 310.98L249.25 313.00L249.50 315.05L249.75 317.10L250.00 319.17L250.25 321.25L250.50 323.32L250.75 325.40L251.00 327.48L251.25 329.57L251.50 331.65L251.75 333.73L252.00 335.82L252.25 337.90L252.50 339.99L252.75 342.07L253.00 344.16L253.25 346.25L253.50 348.34L253.75 350.46L254.00 352.60L254.25 354.75L254.50 356.88L254.75 358.97L255.00 361.00L255.25 362.88L255.50 364.55L255.75 366.09L256.00 367.53L256.25 368.95L256.50 370.40L256.75 371.91L257.00 373.42L257.25 374.89L257.50 376.33L257.75 377.73L258.00 378.91L258.25 379.60L258.50 379.93L258.75 380.00L259.00 379.92L259.25 379.69L259.50 379.29L259.75 378.72L260.00 377.99L260.25 377.15L260.50 376.19L260.75 374.98L261.00 373.43L261.25 371.63L261.50 369.71L261.75 367.75L262.00 365.80L262.25 363.92L262.50 362.17L262.75 360.55L263.00 359.06L263.25 357.64L263.50 356.23L263.75 354.76L264.00 353.24L264.25 351.64L264.50 349.98L264.75 348.26L265.00 346.52L265.25 344.78L265.50 343.08L265.75 341.43L266.00 339.86L266.25 338.35L266.50 336.91L266.75 335.52L267.00 334.19L267.25 332.91L267.50 331.69L267.75 330.53L268.00 329.42L268.25 328.35L268.50 327.33L268.75 326.34L269.00 325.39L269.25 324.48L269.50 323.60L269.75 322.76L270.00 321.97L270.25 321.22L270.50 320.53L270.75 319.88L271.00 319.28L271.25 318.73L271.50 318.22L271.75 317.75L272.00 317.30L272.25 316.88L272.50 316.49L272.75 316.10L273.00 315.72L273.25 315.35L273.50 314.97L273.75 314.58L274.00 314.18L274.25 313.76L274.50 313.33L274.75 312.87L275.00 312.38L275.25 311.88L275.50 311.37L275.75 310.83L276.00 310.28L276.25 309.72L276.50 309.13L276.75 308.53L277.00 307.90L277.25 307.25L277.50 306.57L277.75 305.87L278.00 305.13L278.25 304.35L278.50 303.53L278.75 302.67L279.00 301.76L279.25 300.82L279.50 299.83L279.75 298.80L280.00 297.73L280.25 296.61L280.50 295.45L280.75 294.23L281.00 292.96L281.25 291.64L281.50 290.27L281.75 288.86L282.00 287.41L282.25 285.94L282.50 284.45L282.75 282.92L283.00 281.35L283.25 279.72L283.50 278.00L283.75 276.17L284.00 274.21L284.25 272.10L284.50 269.82L284.75 267.41L285.00 264.90L285.25 262.34L285.50 259.80L285.75 257.30L286.00 254.87L286.25 252.50L286.50 250.15L286.75 247.81L287.00 245.44L287.25 243.04L287.50 240.59L287.75 238.09L288.00 235.54L288.25 232.93L288.50 230.23L288.75 227.42L289.00 224.47L289.25 221.37L289.50 218.07L289.75 214.59L290.00 210.96L290.25 207.25L290.50 203.53L290.75 199.91L291.00 196.43L291.25 193.12L291.50 189.99L291.75 187.02L292.00 184.17L292.25 181.44L292.50 178.79L292.75 176.25L293.00 173.80L293.25 171.48L293.50 169.27L293.75 167.21L294.00 165.28L294.25 163.47L294.50 161.79L294.75 160.22L295.00 158.77L295.25 157.43L295.50 156.19L295.75 155.05L296.00 154.01L296.25 153.08L296.50 152.26L296.75 151.56L297.00 150.98L297.25 150.51L297.50 150.12L297.75 149.80L298.00 149.53L298.25 149.29L298.50 149.06L298.75 148.85L299.00 148.64L299.25 148.43L299.50 148.22L299.75 148.01L300.00 147.80L300.25 147.60L300.50 147.39L300.75 147.18L301.00 146.96L301.25 146.73L301.50 146.49L301.75 146.24L302.00 145.96L302.25 145.64L302.50 145.27L302.75 144.80L303.00 144.23L303.25 143.53L303.50 142.69L303.75 141.71L304.00 140.61L304.25 139.39L304.50 138.07L304.75 136.66L305.00 135.17L305.25 133.62L305.50 132.02L305.75 130.38L306.00 128.71L306.25 127.00L306.50 125.28L306.75 123.56L307.00 121.84L307.25 120.13L307.50 118.42L307.75 116.71L308.00 114.99L308.25 113.25L308.50 111.47L308.75 109.66L309.00 107.82L309.25 105.96L309.50 104.09L309.75 102.22L310.00 100.37L310.25 98.53L310.50 96.72L310.75 94.92L311.00 93.13L311.25 91.34L311.50 89.56L311.75 87.77L312.00 85.98L312.25 84.19L312.50 82.40L312.75 80.62L313.00 78.84L313.25 77.08L313.50 75.33L313.75 73.62L314.00 71.96L314.25 70.40L314.50 68.97L314.75 67.70L315.00 66.62L315.25 65.73L315.50 65.05L315.75 64.59L316.00 64.35L316.25 64.33L316.50 64.52L316.75 64.90L317.00 65.45L317.25 66.14L317.50 66.93L317.75 67.79L318.00 68.70L318.25 69.65L318.50 70.63L318.75 71.64L319.00 72.66L319.25 73.72L319.50 74.79L319.75 75.88L320.00 76.99L320.25 78.12L320.50 79.27L320.75 80.44L321.00 81.66L321.25 82.92L321.50 84.24L321.75 85.64L322.00 87.14L322.25 88.74L322.50 90.45L322.75 92.24L323.00 94.08L323.25 95.92L323.50 97.72L323.75 99.47L324.00 101.14L324.25 102.74L324.50 104.28L324.75 105.75L325.00 107.15L325.25 108.49L325.50 109.75L325.75 110.96L326.00 112.10L326.25 113.20L326.50 114.24L326.75 115.25L327.00 116.21L327.25 117.11L327.50 117.97L327.75 118.77L328.00 119.50L328.25 120.18L328.50 120.80L328.75 121.36L329.00 121.88L329.25 122.35L329.50 122.80L329.75 123.21L330.00 123.61L330.25 123.99L330.50 124.37L330.75 124.74L331.00 125.11L331.25 125.50L331.50 125.89L331.75 126.31L332.00 126.75L332.25 127.21L332.50 127.70L332.75 128.20L333.00 128.72L333.25 129.25L333.50 129.81L333.75 130.37L334.00 130.96L334.25 131.57L334.50 132.20L334.75 132.86L335.00 133.54L335.25 134.25L335.50 135.00L335.75 135.78L336.00 136.61L336.25 137.47L336.50 138.39L336.75 139.34L337.00 140.34L337.25 141.37L337.50 142.45L337.75 143.57L338.00 144.74L338.25 145.97L338.50 147.25L338.75 148.58L339.00 149.96L339.25 151.37L339.50 152.82L339.75 154.29L340.00 155.79L340.25 157.33L340.50 158.91L340.75 160.55L341.00 162.28L341.25 164.13L341.50 166.11L341.75 168.26L342.00 170.55L342.25 172.99L342.50 175.51L342.75 178.06L343.00 180.60L343.25 183.09L343.50 185.51L343.75 187.88L344.00 190.22L344.25 192.57L344.50 194.94L344.75 197.35L345.00 199.80L345.25 202.31L345.50 204.87L345.75 207.50L346.00 210.22L346.25 213.04L346.50 216.01L346.75 219.15L347.00 222.47L347.25 225.98L347.50 229.63L347.75 233.35L348.00 237.05L348.25 240.66L348.50 244.11L348.75 247.39L349.00 250.49L349.25 253.45L349.50 256.27L349.75 258.99L350.00 261.62L350.25 264.15L350.50 266.58L350.75 268.89L351.00 271.06L351.25 273.11L351.50 275.02L351.75 276.81L352.00 278.47L352.25 280.02L352.50 281.45L352.75 282.78L353.00 284.00L353.25 285.12L353.50 286.14L353.75 287.06L354.00 287.86L354.25 288.54L354.50 289.10L354.75 289.56L355.00 289.93L355.25 290.24L355.50 290.51L355.75 290.75L356.00 290.97L356.25 291.19L356.50 291.40L356.75 291.61L357.00 291.81L357.25 292.02L357.50 292.23L357.75 292.44L358.00 292.65L358.25 292.86L358.50 293.08L358.75 293.31L359.00 293.55L359.25 293.80L359.50 294.09L359.75 294.41L360.00 294.80L360.25 295.28L360.50 295.87L360.75 296.60L361.00 297.46L361.25 298.45L361.50 299.57L361.75 300.81L362.00 302.15L362.25 303.58L362.50 305.07L362.75 306.63L363.00 308.24L363.25 309.88L363.50 311.57L363.75 313.27L364.00 315.00L364.25 316.72L364.50 318.44L364.75 320.15L365.00 321.85L365.25 323.56L365.50 325.29L365.75 327.03L366.00 328.81L366.25 330.63L366.50 332.47L366.75 334.34L367.00 336.21L367.25 338.08L367.50 339.93L367.75 341.76L368.00 343.57L368.25 345.37L368.50 347.16L368.75 348.94L369.00 350.73L369.25 352.51L369.50 354.30L369.75 356.10L370.00 357.89L370.25 359.67L370.50 361.44L370.75 363.21L371.00 364.95L371.25 366.65L371.50 368.29L371.75 369.84L372.00 371.24L372.25 372.49L372.50 373.54L372.75 374.39L373.00 375.03L373.25 375.45L373.50 375.64L373.75 375.60L374.00 375.33L374.25 374.86L374.50 374.22L374.75 373.44L375.00 372.55L375.25 371.59L375.50 370.57L375.75 369.51L376.00 368.41L376.25 367.28L376.50 366.12L376.75 364.94L377.00 363.72L377.25 362.48L377.50 361.21L377.75 359.91L378.00 358.57L378.25 357.19L378.50 355.76L378.75 354.28L379.00 352.73L379.25 351.12L379.50 349.44L379.75 347.71L380.00 345.96L380.25 344.23L380.50 342.54L380.75 340.92L381.00 339.37L381.25 337.88L381.50 336.46L381.75 335.09L382.00 333.78L382.25 332.52L382.50 331.32L382.75 330.17L383.00 329.07L383.25 328.02L383.50 327.01L383.75 326.04L384.00 325.10L384.25 324.19L384.50 323.33L384.75 322.50L385.00 321.73L385.25 321.00L385.50 320.31L385.75 319.68L386.00 319.10L386.25 318.56L386.50 318.06L386.75 317.60L387.00 317.17L387.25 316.76L387.50 316.36L387.75 315.98L388.00 315.60L388.25 315.23L388.50 314.85L388.75 314.46L389.00 314.05L389.25 313.63L389.50 313.18L389.75 312.71L390.00 312.23L390.25 311.72L390.50 311.20L390.75 310.66L391.00 310.10L391.25 309.53L391.50 308.94L391.75 308.33L392.00 307.70L392.25 307.04L392.50 306.35L392.75 305.63L393.00 304.88L393.25 304.09L393.50 303.26L393.75 302.38L394.00 301.46L394.25 300.50L394.50 299.50L394.75 298.46L395.00 297.37L395.25 296.24L395.50 295.07L395.75 293.83L396.00 292.54L396.25 291.20L396.50 289.82L396.75 288.40L397.00 286.95L397.25 285.47L397.50 283.96L397.75 282.42L398.00 280.83L398.25 279.18L398.50 277.43L398.75 275.56L399.00 273.55L399.25 271.39L399.50 269.07L399.75 266.62L400.00 264.08L400.25 261.53L400.50 259.00L400.75 256.52L401.00 254.11L401.25 251.74L401.50 249.40L401.75 247.05L402.00 244.68L402.25 242.26L402.50 239.80L402.75 237.28L403.00 234.71L403.25 232.07L403.50 229.34L403.75 226.49L404.00 223.50L404.25 220.33L404.50 216.98L404.75 213.44L405.00 209.78L405.25 206.05L405.50 202.36L405.75 198.77L406.00 195.35L406.25 192.10L406.50 189.02L406.75 186.09L407.00 183.28L407.25 180.58L407.50 177.97L407.75 175.45L408.00 173.04L408.25 170.76L408.50 168.60L408.75 166.57L409.00 164.68L409.25 162.92L409.50 161.27L409.75 159.74L410.00 158.33L410.25 157.02L410.50 155.82L410.75 154.71L411.00 153.70L411.25 152.80L411.50 152.02L411.75 151.36L412.00 150.82L412.25 150.38L412.50 150.01L412.75 149.71L413.00 149.45L413.25 149.21L413.50 148.99L413.75 148.78L414.00 148.57L414.25 148.36L414.50 148.15L414.75 147.94L415.00 147.74L415.25 147.53L415.50 147.32L415.75 147.11L416.00 146.89L416.25 146.66L416.50 146.41L416.75 146.15L417.00 145.86L417.25 145.53L417.50 145.13L417.75 144.63L418.00 144.02L418.25 143.27L418.50 142.39L418.75 141.38L419.00 140.24L419.25 138.98L419.50 137.63L419.75 136.19L420.00 134.68L420.25 133.12L420.50 131.50L420.75 129.85L421.00 128.16L421.25 126.45L421.50 124.73L421.75 123.01L422.00 121.29L422.25 119.58L422.50 117.87L422.75 116.16L423.00 114.44L423.25 112.68L423.50 110.90L423.75 109.08L424.00 107.23L424.25 105.36L424.50 103.49L424.75 101.63L425.00 99.78L425.25 97.95L425.50 96.14L425.75 94.35L426.00 92.56L426.25 90.77L426.50 88.99L426.75 87.20L427.00 85.41L427.25 83.62L427.50 81.83L427.75 80.05L428.00 78.27L428.25 76.51L428.50 74.78L428.75 73.08L429.00 71.45L429.25 69.93L429.50 68.55L429.75 67.33L430.00 66.31L430.25 65.49L430.50 64.88L430.75 64.49L431.00 64.32L431.25 64.37L431.50 64.62L431.75 65.06L432.00 65.66L432.25 66.38L432.50 67.20L432.75 68.08L433.00 69.00L433.25 69.96L433.50 70.95L433.75 71.96L434.00 73.00L434.25 74.06L434.50 75.14L434.75 76.23L435.00 77.35L435.25 78.48L435.50 79.64L435.75 80.83L436.00 82.05L436.25 83.33L436.50 84.68L436.75 86.11L437.00 87.64L437.25 89.28L437.50 91.01L437.75 92.83L438.00 94.67L438.25 96.50L438.50 98.29L438.75 100.01L439.00 101.66L439.25 103.24L439.50 104.76L439.75 106.20L440.00 107.59L440.25 108.90L440.50 110.15L440.75 111.33L441.00 112.46L441.25 113.54L441.50 114.57L441.75 115.56L442.00 116.50L442.25 117.39L442.50 118.23L442.75 119.01L443.00 119.73L443.25 120.38L443.50 120.98L443.75 121.53L444.00 122.03L444.25 122.50L444.50 122.93L444.75 123.34L445.00 123.73L445.25 124.11L445.50 124.48L445.75 124.86L446.00 125.23L446.25 125.62L446.50 126.03L446.75 126.45L447.00 126.90L447.25 127.36L447.50 127.85L447.75 128.36L448.00 128.89L448.25 129.43L448.50 129.99L448.75 130.56L449.00 131.16L449.25 131.77L449.50 132.41L449.75 133.07L450.00 133.76L450.25 134.48L450.50 135.24L450.75 136.04L451.00 136.88L451.25 137.76L451.50 138.69L451.75 139.65L452.00 140.66L452.25 141.71L452.50 142.80L452.75 143.94L453.00 145.13L453.25 146.37L453.50 147.67L453.75 149.02L454.00 150.41L454.25 151.83L454.50 153.29L454.75 154.77L455.00 156.28L455.25 157.83L455.50 159.43L455.75 161.10L456.00 162.86L456.25 164.75L456.50 166.78L456.75 168.97L457.00 171.32L457.25 173.79L457.50 176.32L457.75 178.88L458.00 181.41L458.25 183.87L458.50 186.27L458.75 188.63L459.00 190.97L459.25 193.32L459.50 195.71L459.75 198.13L460.00 200.60L460.25 203.12L460.50 205.70L460.75 208.36L461.00 211.11L461.25 213.98L461.50 217.00L461.75 220.19L462.00 223.58L462.25 227.14L462.50 230.82L462.75 234.54L463.00 238.22L463.25 241.79L463.50 245.18L463.75 248.40L464.00 251.45L464.25 254.36L464.50 257.15L464.75 259.84L465.00 262.44L465.25 264.94L465.50 267.33L465.75 269.60L466.00 271.73L466.25 273.74L466.50 275.61L466.75 277.35L467.00 278.98L467.25 280.49L467.50 281.89L467.75 283.18L468.00 284.37L468.25 285.46L468.50 286.45L468.75 287.33L469.00 288.09L469.25 288.73L469.50 289.26L469.75 289.69L470.00 290.04L470.25 290.33L470.50 290.59L470.75 290.82L471.00 291.04L471.25 291.25L471.50 291.46L471.75 291.67L472.00 291.88L472.25 292.09L472.50 292.30L472.75 292.50L473.00 292.71L473.25 292.93L473.50 293.15L473.75 293.38L474.00 293.63L474.25 293.89L474.50 294.19L474.75 294.53L475.00 294.94L475.25 295.46L475.50 296.09L475.75 296.86L476.00 297.76L476.25 298.80L476.50 299.96L476.75 301.23L477.00 302.60L477.25 304.05L477.50 305.57L477.75 307.14L478.00 308.76L478.25 310.42L478.50 312.11L478.75 313.82L479.00 315.55L479.25 317.27L479.50 318.99L479.75 320.69L480.00 322.40L480.25 324.11L480.50 325.84L480.75 327.60L481.00 329.39L481.25 331.21L481.50 333.07L481.75 334.94L482.00 336.81L482.25 338.67L482.50 340.51L482.75 342.34L483.00 344.15L483.25 345.94L483.50 347.73L483.75 349.51L484.00 351.30L484.25 353.09L484.50 354.88L484.75 356.67L485.00 358.46L485.25 360.24L485.50 362.01L485.75 363.77L486.00 365.50L486.25 367.18L486.50 368.80L486.75 370.30L487.00 371.66L487.25 372.85L487.50 373.84L487.75 374.62L488.00 375.19L488.25 375.54L488.50 375.65L488.75 375.54L489.00 375.20L489.25 374.67L489.50 373.98L489.75 373.16L490.00 372.25L490.25 371.26L490.50 370.23L490.75 369.16L491.00 368.05L491.25 366.91L491.50 365.75L491.75 364.55L492.00 363.33L492.25 362.08L492.50 360.80L492.75 359.48L493.00 358.13L493.25 356.74L493.50 355.30L493.75 353.79L494.00 352.22L494.25 350.59L494.50 348.89L494.75 347.15L495.00 345.40L495.25 343.69L495.50 342.02L495.75 340.42L496.00 338.89L496.25 337.42L496.50 336.01L496.75 334.66L497.00 333.37L497.25 332.13L497.50 330.94L497.75 329.81L498.00 328.73L498.25 327.69L498.50 326.70L498.75 325.73L499.00 324.80L499.25 323.91L499.50 323.06L499.75 322.25L500.00 321.49L500.25 320.77L500.50 320.11L500.75 319.49L501.00 318.92L501.25 318.40L501.50 317.91L501.75 317.46L502.00 317.03L502.25 316.63L502.50 316.24L502.75 315.86L503.00 315.48L503.25 315.11L503.50 314.72L503.75 314.33L504.00 313.92L504.25 313.49L504.50 313.03L504.75 312.56L505.00 312.07L505.25 311.55L505.50 311.03L505.75 310.48L506.00 309.92L506.25 309.35L506.50 308.75L506.75 308.13L507.00 307.49L507.25 306.82L507.50 306.12L507.75 305.40L508.00 304.63L508.25 303.83L508.50 302.98L508.75 302.09L509.00 301.16L509.25 300.19L509.50 299.17L509.75 298.12L510.00 297.02L510.25 295.87L510.50 294.68L510.75 293.43L511.00 292.12L511.25 290.77L511.50 289.37L511.75 287.94L512.00 286.48L512.25 284.99L512.50 283.47L512.75 281.92L513.00 280.31L513.25 278.63L513.50 276.85L513.75 274.94L514.00 272.88L514.25 270.66L514.50 268.29L514.75 265.81L515.00 263.27L515.25 260.71L515.50 258.20L515.75 255.74L516.00 253.35L516.25 250.99L516.50 248.65L516.75 246.30L517.00 243.91L517.25 241.48L517.50 239.00L517.75 236.47L518.00 233.88L518.25 231.21L518.50 228.44L518.75 225.55L519.00 222.51L519.25 219.28L519.50 215.86L519.75 212.28L520.00 208.59L520.25 204.86L520.50 201.20L520.75 197.66L521.00 194.29L521.25 191.10L521.50 188.07L521.75 185.18L522.00 182.41L522.25 179.73L522.50 177.15L522.75 174.67L523.00 172.30L523.25 170.05L523.50 167.94L523.75 165.96L524.00 164.10L524.25 162.38L524.50 160.77L524.75 159.28L525.00 157.90L525.25 156.62L525.50 155.45L525.75 154.37L526.00 153.40L526.25 152.54L526.50 151.80L526.75 151.18L527.00 150.67L527.25 150.25L527.50 149.91L527.75 149.62L528.00 149.37L528.25 149.14L528.50 148.92L528.75 148.71L529.00 148.50L529.25 148.29L529.50 148.09L529.75 147.88L530.00 147.67L530.25 147.46L530.50 147.25L530.75 147.04L531.00 146.81L531.25 146.58L531.50 146.33L531.75 146.06L532.00 145.76L532.25 145.41L532.50 144.98L532.75 144.45L533.00 143.80L533.25 143.01L533.50 142.08L533.75 141.02L534.00 139.85L534.25 138.56L534.50 137.18L534.75 135.71L535.00 134.19L535.25 132.60L535.50 130.98L535.75 129.31L536.00 127.62L536.25 125.90L536.50 124.18L536.75 122.45L537.00 120.74L537.25 119.03L537.50 117.33L537.75 115.61L538.00 113.88L538.25 112.12L538.50 110.32L538.75 108.49L539.00 106.63L539.25 104.76L539.50 102.89L539.75 101.03L540.00 99.19" stroke="#FF0000"/>
</g>
<rect x="463.5" y="43.5" width="70.29999999999995" height="73.0" fill="#fff" stroke="#353535" stroke-width="1"/>
<line x1="467.8" y1="57.0" x2="509.2" y2="57.0" stroke="#0072BD" stroke-width="3.0"/>
<text x="512.6" y="59.0" font-size="12" fill="#000" stroke="#000" stroke-width="0.3">Io<tspan font-size="9.6" dx="0.8" dy="5.9">a</tspan></text>
<line x1="467.8" y1="80.0" x2="509.2" y2="80.0" stroke="#DE7D00" stroke-width="3.0"/>
<text x="512.6" y="82.0" font-size="12" fill="#000" stroke="#000" stroke-width="0.3">Io<tspan font-size="9.6" dx="0.8" dy="5.9">c</tspan></text>
<line x1="467.8" y1="103.0" x2="509.2" y2="103.0" stroke="#FF0000" stroke-width="3.0"/>
<text x="512.6" y="105.0" font-size="12" fill="#000" stroke="#000" stroke-width="0.3">Io<tspan font-size="9.6" dx="0.8" dy="5.9">b</tspan></text>
<g font-size="13.33" fill="#1c1c1c" stroke="#1c1c1c" stroke-width="0.3">
<text x="100.40" y="441.4" text-anchor="middle">1.38</text>
<text x="157.83" y="441.4" text-anchor="middle">1.39</text>
<text x="215.26" y="441.4" text-anchor="middle">1.4</text>
<text x="272.69" y="441.4" text-anchor="middle">1.41</text>
<text x="330.12" y="441.4" text-anchor="middle">1.42</text>
<text x="387.54" y="441.4" text-anchor="middle">1.43</text>
<text x="444.97" y="441.4" text-anchor="middle">1.44</text>
<text x="502.40" y="441.4" text-anchor="middle">1.45</text>
<text x="62.6" y="48.62" text-anchor="end">600</text>
<text x="62.6" y="107.85" text-anchor="end">400</text>
<text x="62.6" y="167.07" text-anchor="end">200</text>
<text x="62.6" y="226.30" text-anchor="end">0</text>
<text x="62.6" y="285.53" text-anchor="end">-200</text>
<text x="62.6" y="344.75" text-anchor="end">-400</text>
<text x="62.6" y="403.98" text-anchor="end">-600</text>
</g>
<text x="304.9" y="460.9" font-size="14.67" letter-spacing="0.22" fill="#1c1c1c" stroke="#1c1c1c" stroke-width="0.3" text-anchor="middle">Time (s)</text>
<text transform="translate(27 230.1) rotate(-90)" font-size="14.67" letter-spacing="0.22" fill="#1c1c1c" stroke="#1c1c1c" stroke-width="0.3" text-anchor="middle">Current (A)</text>
<text transform="translate(0 24.8) scale(1 1.06)" font-size="14.67" font-weight="bold" fill="#000" stroke="#000" stroke-width="0.25"><tspan x="193.0" letter-spacing="0.47">SST-VSI</tspan> <tspan x="256.65" letter-spacing="0.05">Output</tspan> <tspan x="310.05" letter-spacing="0.17">Current</tspan> <tspan x="369.1" letter-spacing="0.2">(Io</tspan><tspan x="387.8" dy="6.9" font-size="11.73" letter-spacing="0.2">abc</tspan><tspan x="410.0" dy="-6.9">)</tspan></text>
</svg>
</body></html>
